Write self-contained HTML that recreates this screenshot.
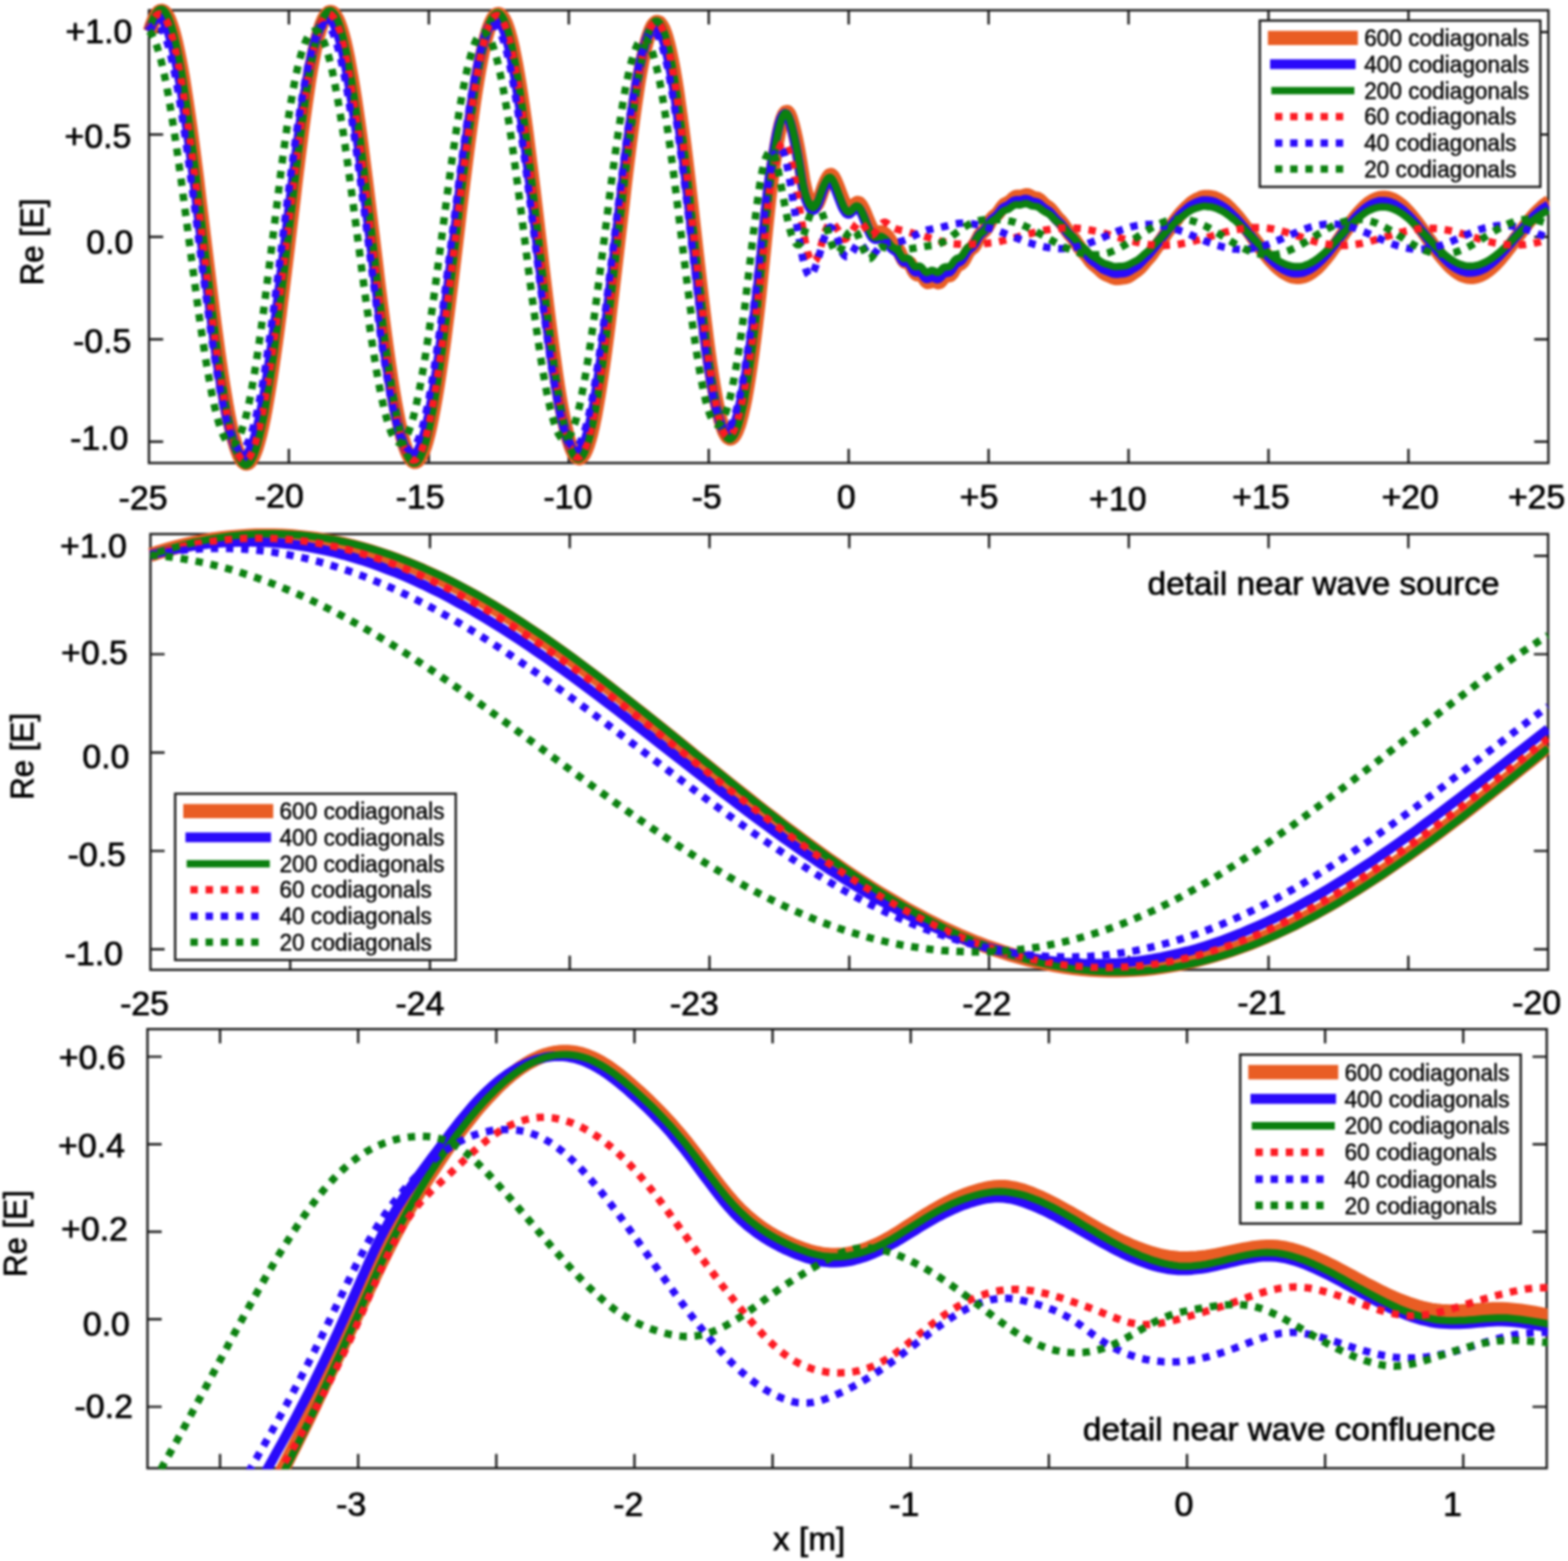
<!DOCTYPE html>
<html lang="en"><head><meta charset="utf-8"><title>Re [E] versus x [m] for different numbers of codiagonals</title>
<style>html,body{margin:0;padding:0;background:#fff}body{width:1600px;height:1593px;overflow:hidden}svg{display:block}text{font-family:"Liberation Sans",Arial,Helvetica,sans-serif;fill:#000;stroke:#000;stroke-width:0.7px;stroke-linejoin:round}.l{stroke-width:0.45px}.t{font-size:34.6px}.l{font-size:23.1px}.a{font-size:34px}.y{font-size:33px}.fr{fill:none;stroke:#1c1c1c;stroke-width:2.4}.cv{fill:none;stroke-linejoin:round;stroke-linecap:butt}</style></head><body>
<svg width="1600" height="1593" viewBox="0 0 1600 1593" role="img" aria-label="Three stacked line plots of Re [E] versus x [m] for 600, 400, 200, 60, 40 and 20 codiagonals">
<defs><filter id="soft" x="0" y="0" width="100%" height="100%" filterUnits="userSpaceOnUse" color-interpolation-filters="sRGB"><feGaussianBlur stdDeviation="0.85"/></filter></defs>
<rect width="1600" height="1593" fill="#fff"/>
<g filter="url(#soft)">
<rect width="1600" height="1593" fill="#fff"/>
<g id="panel1">
<path class="fr" d="M294.80,472.5v-14.5M294.80,10.5v14.5M437.60,472.5v-14.5M437.60,10.5v14.5M580.40,472.5v-14.5M580.40,10.5v14.5M723.20,472.5v-14.5M723.20,10.5v14.5M866.00,472.5v-14.5M866.00,10.5v14.5M1008.80,472.5v-14.5M1008.80,10.5v14.5M1151.60,472.5v-14.5M1151.60,10.5v14.5M1294.40,472.5v-14.5M1294.40,10.5v14.5M1437.20,472.5v-14.5M1437.20,10.5v14.5M152,450.75h14.5M1580,450.75h-14.5M152,346.25h14.5M1580,346.25h-14.5M152,241.75h14.5M1580,241.75h-14.5M152,137.25h14.5M1580,137.25h-14.5M152,32.75h14.5M1580,32.75h-14.5"/>
<rect class="fr" x="152" y="10.5" width="1428.00" height="462.00"/>
<clipPath id="cp1"><rect x="122" y="-19.5" width="1459.00" height="522.00"/></clipPath>
<g clip-path="url(#cp1)">
<path class="cv" d="M153.0,31.8 L154.8,26.0 L156.6,21.2 L158.4,17.3 L160.1,14.3 L161.9,12.3 L163.7,11.2 L165.5,11.1 L167.3,11.9 L169.1,13.7 L170.9,16.5 L172.7,20.2 L174.4,24.8 L176.2,30.3 L178.0,36.8 L179.8,44.1 L181.6,52.2 L183.4,61.1 L185.2,70.8 L187.0,81.2 L188.7,92.3 L190.5,104.0 L192.3,116.3 L194.1,129.1 L195.9,142.4 L197.7,156.2 L199.5,170.3 L201.3,184.7 L203.0,199.3 L204.8,214.1 L206.6,229.1 L208.4,244.0 L210.2,259.0 L212.0,273.9 L213.8,288.7 L215.6,303.3 L217.3,317.6 L219.1,331.6 L220.9,345.3 L222.7,358.5 L224.5,371.1 L226.3,383.3 L228.1,394.8 L229.9,405.7 L231.6,415.9 L233.4,425.4 L235.2,434.1 L237.0,442.0 L238.8,449.1 L240.6,455.3 L242.4,460.6 L244.1,465.0 L245.9,468.5 L247.7,471.0 L249.5,472.5 L251.3,473.1 L253.1,472.7 L254.9,471.3 L256.7,469.0 L258.4,465.7 L260.2,461.5 L262.0,456.3 L263.8,450.2 L265.6,443.3 L267.4,435.5 L269.2,426.9 L271.0,417.5 L272.7,407.5 L274.5,396.9 L276.3,385.6 L278.1,373.7 L279.9,361.3 L281.7,348.4 L283.5,335.0 L285.3,321.3 L287.0,307.2 L288.8,292.8 L290.6,278.2 L292.4,263.4 L294.2,248.5 L296.0,233.5 L297.8,218.5 L299.6,203.4 L301.3,188.5 L303.1,173.7 L304.9,159.2 L306.7,145.0 L308.5,131.1 L310.3,117.8 L312.1,105.0 L313.9,92.8 L315.6,81.3 L317.4,70.6 L319.2,60.7 L321.0,51.6 L322.8,43.5 L324.6,36.3 L326.4,30.1 L328.1,24.8 L329.9,20.4 L331.7,16.9 L333.5,14.4 L335.3,12.8 L337.1,12.3 L338.9,12.7 L340.7,14.0 L342.4,16.4 L344.2,19.7 L346.0,23.9 L347.8,29.1 L349.6,35.1 L351.4,42.0 L353.2,49.8 L355.0,58.4 L356.7,67.7 L358.5,77.8 L360.3,88.6 L362.1,100.0 L363.9,112.0 L365.7,124.5 L367.5,137.6 L369.3,151.1 L371.0,165.0 L372.8,179.2 L374.6,193.6 L376.4,208.3 L378.2,223.1 L380.0,238.0 L381.8,252.9 L383.6,267.8 L385.3,282.5 L387.1,297.1 L388.9,311.5 L390.7,325.5 L392.5,339.3 L394.3,352.6 L396.1,365.4 L397.9,377.7 L399.6,389.5 L401.4,400.6 L403.2,411.1 L405.0,420.8 L406.8,429.8 L408.6,438.0 L410.4,445.4 L412.1,451.9 L413.9,457.5 L415.7,462.2 L417.5,465.9 L419.3,468.7 L421.1,470.5 L422.9,471.4 L424.7,471.2 L426.4,470.1 L428.2,468.0 L430.0,464.9 L431.8,460.8 L433.6,455.8 L435.4,449.8 L437.2,443.0 L439.0,435.3 L440.7,426.8 L442.5,417.4 L444.3,407.3 L446.1,396.5 L447.9,385.1 L449.7,373.0 L451.5,360.3 L453.3,347.2 L455.0,333.5 L456.8,319.5 L458.6,305.2 L460.4,290.5 L462.2,275.7 L464.0,260.7 L465.8,245.6 L467.6,230.5 L469.3,215.5 L471.1,200.6 L472.9,185.9 L474.7,171.4 L476.5,157.2 L478.3,143.4 L480.1,130.0 L481.9,117.1 L483.6,104.7 L485.4,93.0 L487.2,81.8 L489.0,71.4 L490.8,61.8 L492.6,52.9 L494.4,44.9 L496.1,37.8 L497.9,31.5 L499.7,26.2 L501.5,21.8 L503.3,18.4 L505.1,16.0 L506.9,14.6 L508.7,14.3 L510.4,14.9 L512.2,16.6 L514.0,19.3 L515.8,22.9 L517.6,27.6 L519.4,33.3 L521.2,39.9 L523.0,47.4 L524.7,55.7 L526.5,65.0 L528.3,75.0 L530.1,85.8 L531.9,97.4 L533.7,109.6 L535.5,122.3 L537.3,135.7 L539.0,149.5 L540.8,163.8 L542.6,178.4 L544.4,193.4 L546.2,208.5 L548.0,223.9 L549.8,239.3 L551.6,254.7 L553.3,270.1 L555.1,285.3 L556.9,300.4 L558.7,315.2 L560.5,329.6 L562.3,343.6 L564.1,357.2 L565.9,370.3 L567.6,382.7 L569.4,394.5 L571.2,405.6 L573.0,415.9 L574.8,425.3 L576.6,434.0 L578.4,441.7 L580.1,448.4 L581.9,454.2 L583.7,459.0 L585.5,462.8 L587.3,465.5 L589.1,467.1 L590.9,467.7 L592.7,467.2 L594.4,465.6 L596.2,462.9 L598.0,459.1 L599.8,454.4 L601.6,448.6 L603.4,441.8 L605.2,434.1 L607.0,425.4 L608.7,415.9 L610.5,405.5 L612.3,394.3 L614.1,382.5 L615.9,369.9 L617.7,356.7 L619.5,343.0 L621.3,328.8 L623.0,314.2 L624.8,299.2 L626.6,284.0 L628.4,268.5 L630.2,253.0 L632.0,237.4 L633.8,221.8 L635.6,206.3 L637.3,191.0 L639.1,175.9 L640.9,161.2 L642.7,146.9 L644.5,133.0 L646.3,119.7 L648.1,107.0 L649.9,95.0 L651.6,83.7 L653.4,73.2 L655.2,63.6 L657.0,54.9 L658.8,47.1 L660.6,40.3 L662.4,34.6 L664.1,29.9 L665.9,26.3 L667.7,23.9 L669.5,22.5 L671.3,22.4 L673.1,23.3 L674.9,25.5 L676.7,28.7 L678.4,33.1 L680.2,38.6 L682.0,45.2 L683.8,52.9 L685.6,61.5 L687.4,71.1 L689.2,81.7 L691.0,93.1 L692.7,105.3 L694.5,118.2 L696.3,131.8 L698.1,146.0 L699.9,160.7 L701.7,175.9 L703.5,191.4 L705.3,207.2 L707.0,223.1 L708.8,239.1 L710.6,255.2 L712.4,271.1 L714.2,286.8 L716.0,302.3 L717.8,317.4 L719.6,332.1 L721.3,346.2 L723.1,359.6 L724.9,372.4 L726.7,384.3 L728.5,395.5 L730.3,405.7 L732.1,414.9 L733.9,423.1 L735.6,430.2 L737.4,436.1 L739.2,440.8 L741.0,444.2 L742.8,446.5 L744.6,447.5 L746.4,447.3 L748.1,446.0 L749.9,443.5 L751.7,439.9 L753.5,435.2 L755.3,429.5 L757.1,422.6 L758.9,414.7 L760.7,405.8 L762.4,395.9 L764.2,385.1 L766.0,373.2 L767.8,360.5 L769.6,346.8 L771.4,332.2 L773.2,316.7 L775.0,300.4 L776.7,283.4 L778.5,265.9 L780.3,248.1 L782.1,230.1 L783.9,212.7 L785.7,196.5 L787.5,182.0 L789.3,168.9 L791.0,156.9 L792.8,145.9 L794.6,136.2 L796.4,128.0 L798.2,121.4 L800.0,116.8 L801.8,114.4 L803.6,114.3 L805.3,116.6 L807.1,121.2 L808.9,127.4 L810.7,134.8 L812.5,142.9 L814.3,152.0 L816.1,162.2 L817.9,173.2 L819.6,183.7 L821.4,192.2 L823.2,198.7 L825.0,203.6 L826.8,207.4 L828.6,210.0 L830.4,211.1 L832.1,210.4 L833.9,208.1 L835.7,204.3 L837.5,199.4 L839.3,194.1 L841.1,189.0 L842.9,184.7 L844.7,181.4 L846.4,179.1 L848.2,178.6 L850.0,180.3 L851.8,183.5 L853.6,187.6 L855.4,192.2 L857.2,197.0 L859.0,201.6 L860.7,205.7 L862.5,209.0 L864.3,211.4 L866.1,212.6 L867.9,212.5 L869.7,211.5 L871.5,209.8 L873.3,208.1 L875.0,207.1 L876.8,207.6 L878.6,209.6 L880.4,212.9 L882.2,216.8 L884.0,221.2 L885.8,225.7 L887.6,229.8 L889.3,233.4 L891.1,236.2 L892.9,237.7 L894.7,238.1 L896.5,237.7 L898.3,237.1 L900.1,237.0 L901.9,238.0 L903.6,239.4 L905.4,241.3 L907.2,243.8 L909.0,246.8 L910.8,249.5 L912.6,251.5 L914.4,252.8 L916.1,254.4 L917.9,257.3 L919.7,261.2 L921.5,264.9 L923.3,267.1 L925.1,267.5 L926.9,267.6 L928.7,269.0 L930.4,272.3 L932.2,276.1 L934.0,278.9 L935.8,279.9 L937.6,279.6 L939.4,279.6 L941.2,281.0 L943.0,283.7 L944.7,286.4 L946.5,287.9 L948.3,287.6 L950.1,286.4 L951.9,285.6 L953.7,286.1 L955.5,287.4 L957.3,288.2 L959.0,287.6 L960.8,285.6 L962.6,283.2 L964.4,281.6 L966.2,281.1 L968.0,281.1 L969.8,280.5 L971.6,278.6 L973.3,275.6 L975.1,272.7 L976.9,270.7 L978.7,269.7 L980.5,268.8 L982.3,267.1 L984.1,264.3 L985.9,260.8 L987.6,257.6 L989.4,255.3 L991.2,253.8 L993.0,252.3 L994.8,249.9 L996.6,246.5 L998.4,242.9 L1000.1,239.8 L1001.9,237.7 L1003.7,236.1 L1005.5,234.3 L1007.3,231.6 L1009.1,228.4 L1010.9,225.1 L1012.7,222.6 L1014.4,220.9 L1016.2,219.6 L1018.0,217.9 L1019.8,215.6 L1021.6,212.9 L1023.4,210.5 L1025.2,208.8 L1027.0,207.9 L1028.7,207.1 L1030.5,206.0 L1032.3,204.4 L1034.1,202.6 L1035.9,201.3 L1037.7,200.8 L1039.5,200.8 L1041.3,200.9 L1043.0,200.6 L1044.8,199.9 L1046.6,199.3 L1048.4,199.2 L1050.2,199.8 L1052.0,200.8 L1053.8,201.8 L1055.6,202.3 L1057.3,202.6 L1059.1,203.1 L1060.9,204.2 L1062.7,205.8 L1064.5,207.7 L1066.3,209.4 L1068.1,210.7 L1069.9,211.9 L1071.6,213.3 L1073.4,215.3 L1075.2,217.7 L1077.0,220.1 L1078.8,222.3 L1080.6,224.2 L1082.4,226.0 L1084.1,228.1 L1085.9,230.7 L1087.7,233.5 L1089.5,236.2 L1091.3,238.6 L1093.1,240.6 L1094.9,242.7 L1096.7,245.1 L1098.4,247.8 L1100.2,250.6 L1102.0,253.1 L1103.8,255.4 L1105.6,257.3 L1107.4,259.3 L1109.2,261.5 L1111.0,263.9 L1112.7,266.2 L1114.5,268.3 L1116.3,270.0 L1118.1,271.4 L1119.9,272.9 L1121.7,274.6 L1123.5,276.3 L1125.3,277.9 L1127.0,279.1 L1128.8,280.0 L1130.6,280.7 L1132.4,281.4 L1134.2,282.3 L1136.0,283.1 L1137.8,283.7 L1139.6,283.9 L1141.3,283.7 L1143.1,283.5 L1144.9,283.3 L1146.7,283.1 L1148.5,282.8 L1150.3,282.3 L1152.1,281.3 L1153.9,280.2 L1155.6,278.9 L1157.4,277.7 L1159.2,276.5 L1161.0,275.2 L1162.8,273.6 L1164.6,271.6 L1166.4,269.6 L1168.1,267.5 L1169.9,265.5 L1171.7,263.5 L1173.5,261.3 L1175.3,259.0 L1177.1,256.4 L1178.9,253.8 L1180.7,251.3 L1182.4,248.8 L1184.2,246.4 L1186.0,243.9 L1187.8,241.3 L1189.6,238.6 L1191.4,235.9 L1193.2,233.4 L1195.0,231.0 L1196.7,228.6 L1198.5,226.3 L1200.3,223.8 L1202.1,221.4 L1203.9,219.1 L1205.7,217.1 L1207.5,215.2 L1209.3,213.4 L1211.0,211.6 L1212.8,209.9 L1214.6,208.2 L1216.4,206.8 L1218.2,205.6 L1220.0,204.5 L1221.8,203.6 L1223.6,202.8 L1225.3,202.0 L1227.1,201.4 L1228.9,201.0 L1230.7,200.9 L1232.5,201.0 L1234.3,201.1 L1236.1,201.3 L1237.9,201.6 L1239.6,202.2 L1241.4,202.9 L1243.2,203.8 L1245.0,204.9 L1246.8,206.0 L1248.6,207.2 L1250.4,208.5 L1252.1,210.0 L1253.9,211.7 L1255.7,213.5 L1257.5,215.4 L1259.3,217.3 L1261.1,219.3 L1262.9,221.3 L1264.7,223.5 L1266.4,225.8 L1268.2,228.2 L1270.0,230.6 L1271.8,233.0 L1273.6,235.3 L1275.4,237.7 L1277.2,240.2 L1279.0,242.8 L1280.7,245.3 L1282.5,247.8 L1284.3,250.2 L1286.1,252.5 L1287.9,254.9 L1289.7,257.2 L1291.5,259.5 L1293.3,261.8 L1295.0,263.9 L1296.8,265.9 L1298.6,267.8 L1300.4,269.7 L1302.2,271.5 L1304.0,273.2 L1305.8,274.7 L1307.6,276.1 L1309.3,277.4 L1311.1,278.5 L1312.9,279.5 L1314.7,280.5 L1316.5,281.2 L1318.3,281.9 L1320.1,282.3 L1321.9,282.5 L1323.6,282.7 L1325.4,282.7 L1327.2,282.5 L1329.0,282.2 L1330.8,281.7 L1332.6,281.0 L1334.4,280.2 L1336.1,279.2 L1337.9,278.1 L1339.7,276.8 L1341.5,275.4 L1343.3,273.9 L1345.1,272.2 L1346.9,270.3 L1348.7,268.4 L1350.4,266.4 L1352.2,264.3 L1354.0,262.0 L1355.8,259.7 L1357.6,257.3 L1359.4,254.8 L1361.2,252.3 L1363.0,249.8 L1364.7,247.3 L1366.5,244.7 L1368.3,242.1 L1370.1,239.5 L1371.9,236.9 L1373.7,234.3 L1375.5,231.8 L1377.3,229.3 L1379.0,226.9 L1380.8,224.5 L1382.6,222.2 L1384.4,219.9 L1386.2,217.8 L1388.0,215.8 L1389.8,213.9 L1391.6,212.1 L1393.3,210.4 L1395.1,208.8 L1396.9,207.4 L1398.7,206.2 L1400.5,205.1 L1402.3,204.2 L1404.1,203.3 L1405.9,202.7 L1407.6,202.2 L1409.4,201.9 L1411.2,201.7 L1413.0,201.7 L1414.8,201.9 L1416.6,202.2 L1418.4,202.7 L1420.1,203.4 L1421.9,204.2 L1423.7,205.2 L1425.5,206.3 L1427.3,207.5 L1429.1,208.9 L1430.9,210.4 L1432.7,212.0 L1434.4,213.8 L1436.2,215.7 L1438.0,217.7 L1439.8,219.8 L1441.6,221.9 L1443.4,224.2 L1445.2,226.5 L1447.0,228.9 L1448.7,231.3 L1450.5,233.8 L1452.3,236.3 L1454.1,238.8 L1455.9,241.4 L1457.7,243.9 L1459.5,246.5 L1461.3,249.0 L1463.0,251.5 L1464.8,254.0 L1466.6,256.4 L1468.4,258.7 L1470.2,261.0 L1472.0,263.3 L1473.8,265.4 L1475.6,267.4 L1477.3,269.4 L1479.1,271.2 L1480.9,272.9 L1482.7,274.5 L1484.5,276.0 L1486.3,277.4 L1488.1,278.5 L1489.9,279.6 L1491.6,280.5 L1493.4,281.2 L1495.2,281.8 L1497.0,282.3 L1498.8,282.6 L1500.6,282.7 L1502.4,282.7 L1504.1,282.5 L1505.9,282.2 L1507.7,281.7 L1509.5,281.1 L1511.3,280.3 L1513.1,279.4 L1514.9,278.4 L1516.7,277.2 L1518.4,276.0 L1520.2,274.6 L1522.0,273.0 L1523.8,271.4 L1525.6,269.7 L1527.4,267.8 L1529.2,265.9 L1531.0,263.9 L1532.7,261.8 L1534.5,259.6 L1536.3,257.4 L1538.1,255.1 L1539.9,252.8 L1541.7,250.4 L1543.5,248.1 L1545.3,245.6 L1547.0,243.2 L1548.8,240.8 L1550.6,238.4 L1552.4,235.9 L1554.2,233.6 L1556.0,231.2 L1557.8,228.9 L1559.6,226.6 L1561.3,224.4 L1563.1,222.3 L1564.9,220.2 L1566.7,218.2 L1568.5,216.4 L1570.3,214.6 L1572.1,212.9 L1573.9,211.2 L1575.6,209.8 L1577.4,208.4 L1579.2,207.1 L1581.0,206.0" stroke="#e95d24" stroke-width="14.5"/>
<path class="cv" d="M152.0,31.8 L153.8,27.2 L155.6,23.5 L157.4,20.7 L159.1,18.8 L160.9,17.8 L162.7,17.8 L164.5,18.7 L166.3,20.5 L168.1,23.3 L169.9,26.9 L171.7,31.5 L173.4,37.0 L175.2,43.3 L177.0,50.4 L178.8,58.4 L180.6,67.1 L182.4,76.5 L184.2,86.7 L186.0,97.5 L187.7,108.9 L189.5,120.9 L191.3,133.4 L193.1,146.3 L194.9,159.7 L196.7,173.4 L198.5,187.4 L200.3,201.6 L202.0,216.0 L203.8,230.5 L205.6,245.0 L207.4,259.6 L209.2,274.1 L211.0,288.4 L212.8,302.5 L214.6,316.4 L216.3,330.0 L218.1,343.2 L219.9,356.0 L221.7,368.3 L223.5,380.0 L225.3,391.2 L227.1,401.7 L228.9,411.6 L230.6,420.7 L232.4,429.1 L234.2,436.7 L236.0,443.5 L237.8,449.5 L239.6,454.5 L241.4,458.7 L243.1,461.9 L244.9,464.3 L246.7,465.7 L248.5,466.1 L250.3,465.6 L252.1,464.1 L253.9,461.7 L255.7,458.4 L257.4,454.2 L259.2,449.0 L261.0,443.0 L262.8,436.1 L264.6,428.4 L266.4,420.0 L268.2,410.7 L270.0,400.8 L271.7,390.2 L273.5,379.0 L275.3,367.3 L277.1,355.0 L278.9,342.2 L280.7,329.0 L282.5,315.5 L284.3,301.6 L286.0,287.5 L287.8,273.2 L289.6,258.8 L291.4,244.2 L293.2,229.7 L295.0,215.2 L296.8,200.7 L298.6,186.4 L300.3,172.4 L302.1,158.5 L303.9,145.1 L305.7,132.0 L307.5,119.4 L309.3,107.3 L311.1,95.8 L312.9,84.9 L314.6,74.7 L316.4,65.3 L318.2,56.6 L320.0,48.8 L321.8,41.8 L323.6,35.7 L325.4,30.6 L327.1,26.3 L328.9,23.0 L330.7,20.5 L332.5,19.1 L334.3,18.5 L336.1,18.9 L337.9,20.3 L339.7,22.5 L341.4,25.8 L343.2,29.9 L345.0,34.9 L346.8,40.8 L348.6,47.5 L350.4,55.1 L352.2,63.4 L354.0,72.5 L355.7,82.3 L357.5,92.8 L359.3,103.9 L361.1,115.6 L362.9,127.8 L364.7,140.5 L366.5,153.6 L368.3,167.1 L370.0,180.9 L371.8,195.0 L373.6,209.2 L375.4,223.6 L377.2,238.1 L379.0,252.6 L380.8,267.1 L382.6,281.4 L384.3,295.6 L386.1,309.6 L387.9,323.3 L389.7,336.6 L391.5,349.5 L393.3,362.0 L395.1,374.0 L396.9,385.5 L398.6,396.3 L400.4,406.5 L402.2,416.0 L404.0,424.7 L405.8,432.7 L407.6,439.9 L409.4,446.2 L411.1,451.7 L412.9,456.3 L414.7,460.0 L416.5,462.7 L418.3,464.5 L420.1,465.3 L421.9,465.2 L423.7,464.1 L425.4,462.1 L427.2,459.1 L429.0,455.2 L430.8,450.3 L432.6,444.6 L434.4,438.0 L436.2,430.5 L438.0,422.3 L439.7,413.2 L441.5,403.4 L443.3,392.9 L445.1,381.8 L446.9,370.1 L448.7,357.8 L450.5,345.0 L452.3,331.7 L454.0,318.1 L455.8,304.1 L457.6,289.9 L459.4,275.5 L461.2,260.9 L463.0,246.2 L464.8,231.6 L466.6,216.9 L468.3,202.4 L470.1,188.0 L471.9,173.9 L473.7,160.1 L475.5,146.6 L477.3,133.6 L479.1,121.0 L480.9,108.9 L482.6,97.4 L484.4,86.6 L486.2,76.4 L488.0,67.0 L489.8,58.3 L491.6,50.4 L493.4,43.4 L495.1,37.2 L496.9,32.0 L498.7,27.7 L500.5,24.3 L502.3,21.9 L504.1,20.5 L505.9,20.0 L507.7,20.6 L509.4,22.1 L511.2,24.6 L513.0,28.1 L514.8,32.6 L516.6,38.0 L518.4,44.3 L520.2,51.5 L522.0,59.6 L523.7,68.5 L525.5,78.2 L527.3,88.7 L529.1,99.8 L530.9,111.6 L532.7,124.0 L534.5,137.0 L536.3,150.4 L538.0,164.3 L539.8,178.5 L541.6,193.0 L543.4,207.7 L545.2,222.6 L547.0,237.6 L548.8,252.7 L550.6,267.6 L552.3,282.5 L554.1,297.2 L555.9,311.6 L557.7,325.8 L559.5,339.5 L561.3,352.8 L563.1,365.5 L564.9,377.7 L566.6,389.3 L568.4,400.2 L570.2,410.3 L572.0,419.7 L573.8,428.2 L575.6,435.8 L577.4,442.5 L579.1,448.3 L580.9,453.1 L582.7,456.9 L584.5,459.7 L586.3,461.5 L588.1,462.2 L589.9,461.8 L591.7,460.4 L593.4,457.9 L595.2,454.5 L597.0,450.0 L598.8,444.5 L600.6,438.0 L602.4,430.6 L604.2,422.3 L606.0,413.1 L607.7,403.2 L609.5,392.4 L611.3,380.9 L613.1,368.8 L614.9,356.0 L616.7,342.7 L618.5,329.0 L620.3,314.8 L622.0,300.2 L623.8,285.4 L625.6,270.4 L627.4,255.2 L629.2,240.0 L631.0,224.8 L632.8,209.7 L634.6,194.7 L636.3,180.0 L638.1,165.6 L639.9,151.5 L641.7,138.0 L643.5,124.9 L645.3,112.4 L647.1,100.5 L648.9,89.4 L650.6,79.0 L652.4,69.5 L654.2,60.8 L656.0,53.0 L657.8,46.2 L659.6,40.4 L661.4,35.6 L663.1,31.9 L664.9,29.3 L666.7,27.8 L668.5,27.4 L670.3,28.1 L672.1,29.9 L673.9,32.8 L675.7,36.9 L677.4,42.0 L679.2,48.2 L681.0,55.4 L682.8,63.6 L684.6,72.8 L686.4,82.9 L688.2,93.8 L690.0,105.5 L691.7,118.0 L693.5,131.1 L695.3,144.8 L697.1,159.0 L698.9,173.7 L700.7,188.8 L702.5,204.1 L704.3,219.6 L706.0,235.3 L707.8,250.9 L709.6,266.5 L711.4,281.9 L713.2,297.1 L715.0,311.9 L716.8,326.4 L718.6,340.3 L720.3,353.6 L722.1,366.3 L723.9,378.2 L725.7,389.2 L727.5,399.4 L729.3,408.7 L731.1,417.0 L732.9,424.3 L734.6,430.5 L736.4,435.4 L738.2,439.1 L740.0,441.4 L741.8,442.4 L743.6,442.3 L745.4,440.9 L747.1,438.3 L748.9,434.6 L750.7,429.9 L752.5,424.0 L754.3,417.2 L756.1,409.5 L757.9,400.8 L759.7,391.2 L761.4,380.8 L763.2,369.6 L765.0,357.7 L766.8,345.0 L768.6,331.6 L770.4,317.6 L772.2,303.0 L774.0,287.8 L775.7,271.7 L777.5,254.6 L779.3,236.4 L781.1,217.7 L782.9,200.4 L784.7,186.0 L786.5,173.8 L788.3,162.6 L790.0,151.7 L791.8,141.5 L793.6,132.7 L795.4,125.8 L797.2,120.7 L799.0,117.5 L800.8,116.1 L802.6,116.9 L804.3,119.9 L806.1,124.9 L807.9,131.4 L809.7,138.9 L811.5,147.1 L813.3,156.4 L815.1,167.0 L816.9,178.2 L818.6,188.5 L820.4,196.6 L822.2,202.8 L824.0,207.4 L825.8,211.1 L827.6,213.7 L829.4,214.7 L831.1,214.0 L832.9,211.6 L834.7,207.9 L836.5,203.3 L838.3,198.2 L840.1,193.3 L841.9,189.2 L843.7,186.0 L845.4,184.0 L847.2,183.9 L849.0,185.9 L850.8,189.2 L852.6,193.2 L854.4,197.8 L856.2,202.5 L858.0,207.1 L859.7,211.3 L861.5,214.7 L863.3,217.2 L865.1,218.3 L866.9,218.0 L868.7,216.6 L870.5,214.8 L872.3,212.9 L874.0,211.9 L875.8,212.4 L877.6,214.6 L879.4,218.0 L881.2,222.1 L883.0,226.6 L884.8,231.2 L886.6,235.5 L888.3,239.2 L890.1,242.0 L891.9,243.7 L893.7,244.1 L895.5,243.7 L897.3,243.0 L899.1,242.9 L900.9,243.7 L902.6,245.0 L904.4,246.7 L906.2,248.8 L908.0,251.3 L909.8,253.5 L911.6,255.0 L913.4,255.9 L915.1,257.1 L916.9,259.3 L918.7,262.5 L920.5,265.5 L922.3,267.2 L924.1,267.4 L925.9,267.2 L927.7,268.4 L929.4,271.0 L931.2,274.3 L933.0,276.6 L934.8,277.4 L936.6,277.1 L938.4,277.0 L940.2,278.2 L942.0,280.5 L943.7,282.9 L945.5,284.1 L947.3,283.8 L949.1,282.7 L950.9,282.1 L952.7,282.5 L954.5,283.6 L956.3,284.3 L958.0,283.7 L959.8,282.0 L961.6,279.8 L963.4,278.3 L965.2,277.9 L967.0,277.8 L968.8,277.3 L970.6,275.5 L972.3,272.9 L974.1,270.3 L975.9,268.5 L977.7,267.5 L979.5,266.6 L981.3,265.1 L983.1,262.5 L984.9,259.4 L986.6,256.5 L988.4,254.4 L990.2,253.0 L992.0,251.6 L993.8,249.4 L995.6,246.4 L997.4,243.1 L999.1,240.3 L1000.9,238.4 L1002.7,236.9 L1004.5,235.2 L1006.3,232.8 L1008.1,229.9 L1009.9,227.0 L1011.7,224.7 L1013.4,223.1 L1015.2,221.9 L1017.0,220.4 L1018.8,218.3 L1020.6,215.9 L1022.4,213.7 L1024.2,212.2 L1026.0,211.3 L1027.7,210.7 L1029.5,209.7 L1031.3,208.2 L1033.1,206.7 L1034.9,205.5 L1036.7,205.0 L1038.5,205.0 L1040.3,205.1 L1042.0,204.9 L1043.8,204.3 L1045.6,203.7 L1047.4,203.7 L1049.2,204.2 L1051.0,205.2 L1052.8,206.0 L1054.6,206.5 L1056.3,206.8 L1058.1,207.3 L1059.9,208.2 L1061.7,209.7 L1063.5,211.3 L1065.3,212.8 L1067.1,214.0 L1068.9,215.0 L1070.6,216.3 L1072.4,218.1 L1074.2,220.2 L1076.0,222.3 L1077.8,224.3 L1079.6,225.9 L1081.4,227.5 L1083.1,229.4 L1084.9,231.6 L1086.7,234.1 L1088.5,236.5 L1090.3,238.6 L1092.1,240.5 L1093.9,242.3 L1095.7,244.4 L1097.4,246.8 L1099.2,249.2 L1101.0,251.5 L1102.8,253.4 L1104.6,255.2 L1106.4,256.9 L1108.2,258.9 L1110.0,261.0 L1111.7,263.1 L1113.5,264.9 L1115.3,266.4 L1117.1,267.7 L1118.9,269.0 L1120.7,270.5 L1122.5,272.0 L1124.3,273.4 L1126.0,274.5 L1127.8,275.3 L1129.6,275.9 L1131.4,276.6 L1133.2,277.4 L1135.0,278.1 L1136.8,278.6 L1138.6,278.8 L1140.3,278.7 L1142.1,278.5 L1143.9,278.3 L1145.7,278.2 L1147.5,278.0 L1149.3,277.5 L1151.1,276.7 L1152.9,275.7 L1154.6,274.6 L1156.4,273.5 L1158.2,272.4 L1160.0,271.2 L1161.8,269.8 L1163.6,268.0 L1165.4,266.2 L1167.1,264.3 L1168.9,262.5 L1170.7,260.7 L1172.5,258.8 L1174.3,256.7 L1176.1,254.4 L1177.9,252.1 L1179.7,249.8 L1181.4,247.6 L1183.2,245.5 L1185.0,243.2 L1186.8,240.8 L1188.6,238.4 L1190.4,236.0 L1192.2,233.7 L1194.0,231.6 L1195.7,229.5 L1197.5,227.4 L1199.3,225.2 L1201.1,223.1 L1202.9,221.1 L1204.7,219.2 L1206.5,217.6 L1208.3,216.0 L1210.0,214.4 L1211.8,212.8 L1213.6,211.4 L1215.4,210.1 L1217.2,209.1 L1219.0,208.2 L1220.8,207.4 L1222.6,206.7 L1224.3,206.0 L1226.1,205.5 L1227.9,205.2 L1229.7,205.2 L1231.5,205.3 L1233.3,205.4 L1235.1,205.7 L1236.9,206.0 L1238.6,206.5 L1240.4,207.2 L1242.2,208.0 L1244.0,209.0 L1245.8,210.1 L1247.6,211.2 L1249.4,212.4 L1251.1,213.7 L1252.9,215.2 L1254.7,216.8 L1256.5,218.5 L1258.3,220.3 L1260.1,222.0 L1261.9,223.8 L1263.7,225.8 L1265.4,227.8 L1267.2,230.0 L1269.0,232.1 L1270.8,234.2 L1272.6,236.3 L1274.4,238.5 L1276.2,240.7 L1278.0,243.0 L1279.7,245.2 L1281.5,247.4 L1283.3,249.5 L1285.1,251.6 L1286.9,253.7 L1288.7,255.8 L1290.5,257.8 L1292.3,259.8 L1294.0,261.7 L1295.8,263.5 L1297.6,265.2 L1299.4,266.8 L1301.2,268.4 L1303.0,269.9 L1304.8,271.3 L1306.6,272.5 L1308.3,273.6 L1310.1,274.6 L1311.9,275.5 L1313.7,276.3 L1315.5,277.0 L1317.3,277.6 L1319.1,278.0 L1320.9,278.2 L1322.6,278.3 L1324.4,278.3 L1326.2,278.1 L1328.0,277.9 L1329.8,277.4 L1331.6,276.8 L1333.4,276.0 L1335.1,275.2 L1336.9,274.2 L1338.7,273.1 L1340.5,271.8 L1342.3,270.4 L1344.1,268.9 L1345.9,267.2 L1347.7,265.5 L1349.4,263.7 L1351.2,261.8 L1353.0,259.8 L1354.8,257.8 L1356.6,255.6 L1358.4,253.4 L1360.2,251.2 L1362.0,248.9 L1363.7,246.6 L1365.5,244.3 L1367.3,242.0 L1369.1,239.7 L1370.9,237.3 L1372.7,235.0 L1374.5,232.8 L1376.3,230.6 L1378.0,228.4 L1379.8,226.3 L1381.6,224.2 L1383.4,222.2 L1385.2,220.3 L1387.0,218.5 L1388.8,216.8 L1390.6,215.2 L1392.3,213.7 L1394.1,212.3 L1395.9,211.0 L1397.7,209.9 L1399.5,208.9 L1401.3,208.1 L1403.1,207.3 L1404.9,206.8 L1406.6,206.3 L1408.4,206.0 L1410.2,205.9 L1412.0,205.9 L1413.8,206.1 L1415.6,206.4 L1417.4,206.8 L1419.1,207.4 L1420.9,208.1 L1422.7,208.9 L1424.5,209.9 L1426.3,211.0 L1428.1,212.3 L1429.9,213.6 L1431.7,215.0 L1433.4,216.6 L1435.2,218.3 L1437.0,220.0 L1438.8,221.9 L1440.6,223.8 L1442.4,225.8 L1444.2,227.8 L1446.0,229.9 L1447.7,232.1 L1449.5,234.3 L1451.3,236.5 L1453.1,238.7 L1454.9,241.0 L1456.7,243.3 L1458.5,245.5 L1460.3,247.8 L1462.0,250.0 L1463.8,252.2 L1465.6,254.3 L1467.4,256.4 L1469.2,258.4 L1471.0,260.4 L1472.8,262.3 L1474.6,264.1 L1476.3,265.8 L1478.1,267.4 L1479.9,269.0 L1481.7,270.4 L1483.5,271.7 L1485.3,272.9 L1487.1,273.9 L1488.9,274.8 L1490.6,275.6 L1492.4,276.3 L1494.2,276.8 L1496.0,277.2 L1497.8,277.5 L1499.6,277.6 L1501.4,277.6 L1503.1,277.4 L1504.9,277.1 L1506.7,276.7 L1508.5,276.2 L1510.3,275.5 L1512.1,274.7 L1513.9,273.8 L1515.7,272.8 L1517.4,271.6 L1519.2,270.4 L1521.0,269.0 L1522.8,267.6 L1524.6,266.0 L1526.4,264.4 L1528.2,262.7 L1530.0,260.9 L1531.7,259.1 L1533.5,257.1 L1535.3,255.2 L1537.1,253.1 L1538.9,251.1 L1540.7,249.0 L1542.5,246.9 L1544.3,244.7 L1546.0,242.6 L1547.8,240.4 L1549.6,238.3 L1551.4,236.1 L1553.2,234.0 L1555.0,231.9 L1556.8,229.9 L1558.6,227.9 L1560.3,225.9 L1562.1,224.0 L1563.9,222.2 L1565.7,220.5 L1567.5,218.8 L1569.3,217.2 L1571.1,215.7 L1572.9,214.3 L1574.6,213.0 L1576.4,211.8 L1578.2,210.6 L1580.0,209.7" stroke="#2a0afa" stroke-width="10"/>
<path class="cv" d="M152.0,31.8 L153.8,25.8 L155.6,20.7 L157.4,16.5 L159.1,13.3 L160.9,11.0 L162.7,9.7 L164.5,9.3 L166.3,9.9 L168.1,11.5 L169.9,14.0 L171.7,17.5 L173.4,22.0 L175.2,27.4 L177.0,33.6 L178.8,40.8 L180.6,48.8 L182.4,57.6 L184.2,67.1 L186.0,77.5 L187.7,88.5 L189.5,100.1 L191.3,112.4 L193.1,125.2 L194.9,138.5 L196.7,152.2 L198.5,166.4 L200.3,180.8 L202.0,195.5 L203.8,210.4 L205.6,225.4 L207.4,240.5 L209.2,255.6 L211.0,270.7 L212.8,285.6 L214.6,300.4 L216.3,314.8 L218.1,329.0 L219.9,342.9 L221.7,356.2 L223.5,369.1 L225.3,381.5 L227.1,393.3 L228.9,404.4 L230.6,414.9 L232.4,424.6 L234.2,433.5 L236.0,441.7 L237.8,449.0 L239.6,455.5 L241.4,461.0 L243.1,465.7 L244.9,469.4 L246.7,472.1 L248.5,473.9 L250.3,474.7 L252.1,474.5 L253.9,473.3 L255.7,471.2 L257.4,468.1 L259.2,464.0 L261.0,459.0 L262.8,453.1 L264.6,446.3 L266.4,438.6 L268.2,430.1 L270.0,420.8 L271.7,410.8 L273.5,400.2 L275.3,388.9 L277.1,377.0 L278.9,364.5 L280.7,351.5 L282.5,338.1 L284.3,324.3 L286.0,310.1 L287.8,295.6 L289.6,280.9 L291.4,266.0 L293.2,250.9 L295.0,235.8 L296.8,220.7 L298.6,205.5 L300.3,190.5 L302.1,175.6 L303.9,160.9 L305.7,146.6 L307.5,132.7 L309.3,119.2 L311.1,106.3 L312.9,94.0 L314.6,82.4 L316.4,71.5 L318.2,61.4 L320.0,52.1 L321.8,43.8 L323.6,36.4 L325.4,30.0 L327.1,24.4 L328.9,19.8 L330.7,16.1 L332.5,13.4 L334.3,11.7 L336.1,10.9 L337.9,11.1 L339.7,12.3 L341.4,14.4 L343.2,17.6 L345.0,21.6 L346.8,26.6 L348.6,32.5 L350.4,39.3 L352.2,47.0 L354.0,55.4 L355.7,64.7 L357.5,74.7 L359.3,85.4 L361.1,96.8 L362.9,108.7 L364.7,121.3 L366.5,134.3 L368.3,147.8 L370.0,161.7 L371.8,175.9 L373.6,190.4 L375.4,205.2 L377.2,220.0 L379.0,235.0 L380.8,250.0 L382.6,265.0 L384.3,279.9 L386.1,294.6 L387.9,309.1 L389.7,323.3 L391.5,337.2 L393.3,350.7 L395.1,363.7 L396.9,376.2 L398.6,388.1 L400.4,399.5 L402.2,410.1 L404.0,420.1 L405.8,429.3 L407.6,437.7 L409.4,445.2 L411.1,451.9 L412.9,457.7 L414.7,462.6 L416.5,466.6 L418.3,469.6 L420.1,471.6 L421.9,472.6 L423.7,472.6 L425.4,471.7 L427.2,469.7 L429.0,466.7 L430.8,462.8 L432.6,458.0 L434.4,452.2 L436.2,445.4 L438.0,437.8 L439.7,429.4 L441.5,420.2 L443.3,410.1 L445.1,399.4 L446.9,388.0 L448.7,375.9 L450.5,363.3 L452.3,350.1 L454.0,336.5 L455.8,322.5 L457.6,308.1 L459.4,293.4 L461.2,278.5 L463.0,263.5 L464.8,248.3 L466.6,233.1 L468.3,218.0 L470.1,203.0 L471.9,188.1 L473.7,173.5 L475.5,159.2 L477.3,145.2 L479.1,131.7 L480.9,118.6 L482.6,106.1 L484.4,94.1 L486.2,82.9 L488.0,72.3 L489.8,62.5 L491.6,53.4 L493.4,45.2 L495.1,37.8 L496.9,31.4 L498.7,25.9 L500.5,21.3 L502.3,17.8 L504.1,15.2 L505.9,13.6 L507.7,13.1 L509.4,13.6 L511.2,15.1 L513.0,17.6 L514.8,21.2 L516.6,25.7 L518.4,31.3 L520.2,37.7 L522.0,45.1 L523.7,53.4 L525.5,62.6 L527.3,72.6 L529.1,83.3 L530.9,94.8 L532.7,106.9 L534.5,119.7 L536.3,133.1 L538.0,146.9 L539.8,161.2 L541.6,175.9 L543.4,190.8 L545.2,206.0 L547.0,221.4 L548.8,236.9 L550.6,252.4 L552.3,267.9 L554.1,283.2 L555.9,298.4 L557.7,313.3 L559.5,327.9 L561.3,342.1 L563.1,355.8 L564.9,369.0 L566.6,381.6 L568.4,393.5 L570.2,404.7 L572.0,415.2 L573.8,424.9 L575.6,433.6 L577.4,441.5 L579.1,448.5 L580.9,454.4 L582.7,459.4 L584.5,463.3 L586.3,466.2 L588.1,468.0 L589.9,468.7 L591.7,468.3 L593.4,466.8 L595.2,464.3 L597.0,460.7 L598.8,456.0 L600.6,450.4 L602.4,443.7 L604.2,436.0 L606.0,427.4 L607.7,418.0 L609.5,407.7 L611.3,396.6 L613.1,384.7 L614.9,372.2 L616.7,359.0 L618.5,345.3 L620.3,331.1 L622.0,316.5 L623.8,301.5 L625.6,286.2 L627.4,270.7 L629.2,255.1 L631.0,239.4 L632.8,223.7 L634.6,208.1 L636.3,192.7 L638.1,177.6 L639.9,162.7 L641.7,148.3 L643.5,134.3 L645.3,120.9 L647.1,108.0 L648.9,95.9 L650.6,84.4 L652.4,73.8 L654.2,64.0 L656.0,55.2 L657.8,47.2 L659.6,40.3 L661.4,34.4 L663.1,29.6 L664.9,25.9 L666.7,23.2 L668.5,21.8 L670.3,21.5 L672.1,22.3 L673.9,24.3 L675.7,27.5 L677.4,31.8 L679.2,37.2 L681.0,43.7 L682.8,51.2 L684.6,59.8 L686.4,69.3 L688.2,79.8 L690.0,91.2 L691.7,103.3 L693.5,116.3 L695.3,129.9 L697.1,144.1 L698.9,158.8 L700.7,174.0 L702.5,189.5 L704.3,205.3 L706.0,221.3 L707.8,237.4 L709.6,253.5 L711.4,269.5 L713.2,285.3 L715.0,300.9 L716.8,316.1 L718.6,330.9 L720.3,345.1 L722.1,358.7 L723.9,371.5 L725.7,383.6 L727.5,394.9 L729.3,405.2 L731.1,414.6 L732.9,422.9 L734.6,430.1 L736.4,436.2 L738.2,441.0 L740.0,444.6 L741.8,447.0 L743.6,448.2 L745.4,448.2 L747.1,447.0 L748.9,444.7 L750.7,441.2 L752.5,436.7 L754.3,431.0 L756.1,424.3 L757.9,416.5 L759.7,407.7 L761.4,397.9 L763.2,387.1 L765.0,375.3 L766.8,362.6 L768.6,348.9 L770.4,334.3 L772.2,318.8 L774.0,302.5 L775.7,285.3 L777.5,267.6 L779.3,249.4 L781.1,231.0 L782.9,212.9 L784.7,196.4 L786.5,181.7 L788.3,168.5 L790.0,156.6 L791.8,145.9 L793.6,136.4 L795.4,128.5 L797.2,122.2 L799.0,117.8 L800.8,115.6 L802.6,115.6 L804.3,117.9 L806.1,122.4 L807.9,128.6 L809.7,135.9 L811.5,143.9 L813.3,153.0 L815.1,163.3 L816.9,174.3 L818.6,184.7 L820.4,193.1 L822.2,199.4 L824.0,204.3 L825.8,208.1 L827.6,210.8 L829.4,211.9 L831.1,211.3 L832.9,209.0 L834.7,205.3 L836.5,200.5 L838.3,195.3 L840.1,190.4 L841.9,186.3 L843.7,183.2 L845.4,181.3 L847.2,180.9 L849.0,182.4 L850.8,185.4 L852.6,189.5 L854.4,194.2 L856.2,199.2 L858.0,204.0 L859.7,208.3 L861.5,212.0 L863.3,214.7 L865.1,216.3 L866.9,216.2 L868.7,214.9 L870.5,212.9 L872.3,211.0 L874.0,210.0 L875.8,210.5 L877.6,212.7 L879.4,216.1 L881.2,220.2 L883.0,224.7 L884.8,229.3 L886.6,233.6 L888.3,237.4 L890.1,240.3 L891.9,242.0 L893.7,242.4 L895.5,242.0 L897.3,241.3 L899.1,241.2 L900.9,242.1 L902.6,243.4 L904.4,245.0 L906.2,247.0 L908.0,249.4 L909.8,251.5 L911.6,252.8 L913.4,253.5 L915.1,254.5 L916.9,256.5 L918.7,259.5 L920.5,262.3 L922.3,263.8 L924.1,263.6 L925.9,263.3 L927.7,264.2 L929.4,266.6 L931.2,269.6 L933.0,271.8 L934.8,272.3 L936.6,271.8 L938.4,271.5 L940.2,272.5 L942.0,274.7 L943.7,276.9 L945.5,278.0 L947.3,277.6 L949.1,276.5 L950.9,275.8 L952.7,276.2 L954.5,277.3 L956.3,278.1 L958.0,277.6 L959.8,275.9 L961.6,273.9 L963.4,272.6 L965.2,272.3 L967.0,272.4 L968.8,272.0 L970.6,270.5 L972.3,268.0 L974.1,265.6 L975.9,264.0 L977.7,263.3 L979.5,262.7 L981.3,261.4 L983.1,259.1 L984.9,256.2 L986.6,253.7 L988.4,251.9 L990.2,250.8 L992.0,249.6 L993.8,247.7 L995.6,245.0 L997.4,242.1 L999.1,239.6 L1000.9,238.0 L1002.7,236.8 L1004.5,235.4 L1006.3,233.3 L1008.1,230.7 L1009.9,228.1 L1011.7,226.0 L1013.4,224.8 L1015.2,223.8 L1017.0,222.5 L1018.8,220.7 L1020.6,218.5 L1022.4,216.5 L1024.2,215.2 L1026.0,214.5 L1027.7,214.0 L1029.5,213.2 L1031.3,211.9 L1033.1,210.5 L1034.9,209.4 L1036.7,209.0 L1038.5,209.1 L1040.3,209.3 L1042.0,209.0 L1043.8,208.5 L1045.6,207.9 L1047.4,207.8 L1049.2,208.4 L1051.0,209.2 L1052.8,210.0 L1054.6,210.4 L1056.3,210.6 L1058.1,210.9 L1059.9,211.7 L1061.7,213.0 L1063.5,214.5 L1065.3,215.8 L1067.1,216.8 L1068.9,217.6 L1070.6,218.7 L1072.4,220.2 L1074.2,222.0 L1076.0,223.9 L1077.8,225.6 L1079.6,227.0 L1081.4,228.3 L1083.1,229.8 L1084.9,231.8 L1086.7,233.9 L1088.5,236.0 L1090.3,237.8 L1092.1,239.4 L1093.9,240.9 L1095.7,242.7 L1097.4,244.7 L1099.2,246.9 L1101.0,248.8 L1102.8,250.5 L1104.6,251.9 L1106.4,253.4 L1108.2,255.0 L1110.0,256.9 L1111.7,258.7 L1113.5,260.3 L1115.3,261.5 L1117.1,262.6 L1118.9,263.7 L1120.7,265.0 L1122.5,266.3 L1124.3,267.5 L1126.0,268.5 L1127.8,269.1 L1129.6,269.6 L1131.4,270.2 L1133.2,270.8 L1135.0,271.5 L1136.8,272.0 L1138.6,272.1 L1140.3,272.0 L1142.1,271.8 L1143.9,271.7 L1145.7,271.6 L1147.5,271.4 L1149.3,271.0 L1151.1,270.3 L1152.9,269.4 L1154.6,268.5 L1156.4,267.6 L1158.2,266.7 L1160.0,265.8 L1161.8,264.5 L1163.6,263.1 L1165.4,261.5 L1167.1,259.9 L1168.9,258.4 L1170.7,256.9 L1172.5,255.3 L1174.3,253.6 L1176.1,251.6 L1177.9,249.6 L1179.7,247.7 L1181.4,245.9 L1183.2,244.1 L1185.0,242.3 L1186.8,240.3 L1188.6,238.2 L1190.4,236.2 L1192.2,234.3 L1194.0,232.5 L1195.7,230.8 L1197.5,229.0 L1199.3,227.2 L1201.1,225.4 L1202.9,223.7 L1204.7,222.2 L1206.5,220.8 L1208.3,219.5 L1210.0,218.2 L1211.8,216.8 L1213.6,215.6 L1215.4,214.6 L1217.2,213.7 L1219.0,213.0 L1220.8,212.4 L1222.6,211.8 L1224.3,211.3 L1226.1,210.9 L1227.9,210.6 L1229.7,210.6 L1231.5,210.7 L1233.3,210.9 L1235.1,211.1 L1236.9,211.3 L1238.6,211.8 L1240.4,212.4 L1242.2,213.1 L1244.0,214.0 L1245.8,214.8 L1247.6,215.8 L1249.4,216.8 L1251.1,217.9 L1252.9,219.2 L1254.7,220.6 L1256.5,222.0 L1258.3,223.5 L1260.1,224.9 L1261.9,226.5 L1263.7,228.1 L1265.4,229.8 L1267.2,231.6 L1269.0,233.4 L1270.8,235.2 L1272.6,236.9 L1274.4,238.7 L1276.2,240.6 L1278.0,242.5 L1279.7,244.4 L1281.5,246.2 L1283.3,248.0 L1285.1,249.7 L1286.9,251.5 L1288.7,253.2 L1290.5,254.9 L1292.3,256.6 L1294.0,258.2 L1295.8,259.7 L1297.6,261.1 L1299.4,262.4 L1301.2,263.7 L1303.0,265.0 L1304.8,266.2 L1306.6,267.2 L1308.3,268.1 L1310.1,269.0 L1311.9,269.7 L1313.7,270.4 L1315.5,271.0 L1317.3,271.4 L1319.1,271.8 L1320.9,271.9 L1322.6,272.0 L1324.4,272.0 L1326.2,271.9 L1328.0,271.7 L1329.8,271.3 L1331.6,270.8 L1333.4,270.1 L1335.1,269.4 L1336.9,268.6 L1338.7,267.6 L1340.5,266.6 L1342.3,265.4 L1344.1,264.1 L1345.9,262.7 L1347.7,261.3 L1349.4,259.8 L1351.2,258.2 L1353.0,256.5 L1354.8,254.8 L1356.6,252.9 L1358.4,251.1 L1360.2,249.2 L1362.0,247.3 L1363.7,245.4 L1365.5,243.5 L1367.3,241.5 L1369.1,239.5 L1370.9,237.6 L1372.7,235.6 L1374.5,233.8 L1376.3,231.9 L1378.0,230.1 L1379.8,228.3 L1381.6,226.5 L1383.4,224.8 L1385.2,223.3 L1387.0,221.7 L1388.8,220.3 L1390.6,219.0 L1392.3,217.7 L1394.1,216.5 L1395.9,215.4 L1397.7,214.5 L1399.5,213.7 L1401.3,213.0 L1403.1,212.4 L1404.9,211.9 L1406.6,211.5 L1408.4,211.3 L1410.2,211.1 L1412.0,211.2 L1413.8,211.3 L1415.6,211.5 L1417.4,211.9 L1419.1,212.4 L1420.9,213.0 L1422.7,213.7 L1424.5,214.5 L1426.3,215.5 L1428.1,216.5 L1429.9,217.6 L1431.7,218.8 L1433.4,220.2 L1435.2,221.6 L1437.0,223.0 L1438.8,224.6 L1440.6,226.2 L1442.4,227.9 L1444.2,229.6 L1446.0,231.4 L1447.7,233.2 L1449.5,235.1 L1451.3,236.9 L1453.1,238.8 L1454.9,240.7 L1456.7,242.6 L1458.5,244.5 L1460.3,246.4 L1462.0,248.3 L1463.8,250.1 L1465.6,251.9 L1467.4,253.6 L1469.2,255.4 L1471.0,257.0 L1472.8,258.6 L1474.6,260.1 L1476.3,261.6 L1478.1,262.9 L1479.9,264.2 L1481.7,265.4 L1483.5,266.5 L1485.3,267.5 L1487.1,268.4 L1488.9,269.2 L1490.6,269.8 L1492.4,270.4 L1494.2,270.9 L1496.0,271.2 L1497.8,271.4 L1499.6,271.5 L1501.4,271.5 L1503.1,271.4 L1504.9,271.1 L1506.7,270.8 L1508.5,270.3 L1510.3,269.8 L1512.1,269.1 L1513.9,268.3 L1515.7,267.5 L1517.4,266.5 L1519.2,265.5 L1521.0,264.3 L1522.8,263.1 L1524.6,261.8 L1526.4,260.5 L1528.2,259.0 L1530.0,257.6 L1531.7,256.0 L1533.5,254.4 L1535.3,252.8 L1537.1,251.1 L1538.9,249.3 L1540.7,247.6 L1542.5,245.8 L1544.3,244.0 L1546.0,242.2 L1547.8,240.4 L1549.6,238.6 L1551.4,236.9 L1553.2,235.1 L1555.0,233.4 L1556.8,231.6 L1558.6,230.0 L1560.3,228.3 L1562.1,226.8 L1563.9,225.2 L1565.7,223.8 L1567.5,222.4 L1569.3,221.0 L1571.1,219.8 L1572.9,218.6 L1574.6,217.5 L1576.4,216.5 L1578.2,215.6 L1580.0,214.7" stroke="#0b800f" stroke-width="7.5"/>
<path class="cv" d="M152.0,31.8 L153.8,26.5 L155.6,22.2 L157.4,18.7 L159.1,16.2 L160.9,14.6 L162.7,14.0 L164.5,14.3 L166.3,15.5 L168.1,17.7 L169.9,20.8 L171.7,24.9 L173.4,29.8 L175.2,35.7 L177.0,42.4 L178.8,49.9 L180.6,58.3 L182.4,67.4 L184.2,77.3 L186.0,87.8 L187.7,99.0 L189.5,110.8 L191.3,123.2 L193.1,136.0 L194.9,149.3 L196.7,163.0 L198.5,177.1 L200.3,191.4 L202.0,205.9 L203.8,220.6 L205.6,235.4 L207.4,250.2 L209.2,264.9 L211.0,279.6 L212.8,294.1 L214.6,308.4 L216.3,322.4 L218.1,336.1 L219.9,349.4 L221.7,362.2 L223.5,374.5 L225.3,386.3 L227.1,397.5 L228.9,408.0 L230.6,417.8 L232.4,426.8 L234.2,435.1 L236.0,442.6 L237.8,449.2 L239.6,455.0 L241.4,459.8 L243.1,463.8 L244.9,466.8 L246.7,468.9 L248.5,470.0 L250.3,470.1 L252.1,469.3 L253.9,467.5 L255.7,464.8 L257.4,461.1 L259.2,456.5 L261.0,451.0 L262.8,444.6 L264.6,437.4 L266.4,429.3 L268.2,420.5 L270.0,410.9 L271.7,400.6 L273.5,389.6 L275.3,378.1 L277.1,366.0 L278.9,353.3 L280.7,340.2 L282.5,326.7 L284.3,312.8 L286.0,298.6 L287.8,284.2 L289.6,269.6 L291.4,254.9 L293.2,240.1 L295.0,225.2 L296.8,210.4 L298.6,195.7 L300.3,181.2 L302.1,166.9 L303.9,152.9 L305.7,139.2 L307.5,126.0 L309.3,113.3 L311.1,101.1 L312.9,89.6 L314.6,78.7 L316.4,68.6 L318.2,59.2 L320.0,50.6 L321.8,42.9 L323.6,36.1 L325.4,30.2 L327.1,25.3 L328.9,21.2 L330.7,18.0 L332.5,15.9 L334.3,14.6 L336.1,14.3 L337.9,15.0 L339.7,16.7 L341.4,19.3 L343.2,22.8 L345.0,27.3 L346.8,32.6 L348.6,38.9 L350.4,46.0 L352.2,53.9 L354.0,62.6 L355.7,72.1 L357.5,82.3 L359.3,93.1 L361.1,104.6 L362.9,116.6 L364.7,129.2 L366.5,142.3 L368.3,155.7 L370.0,169.6 L371.8,183.7 L373.6,198.1 L375.4,212.7 L377.2,227.4 L379.0,242.1 L380.8,256.9 L382.6,271.6 L384.3,286.2 L386.1,300.6 L387.9,314.7 L389.7,328.6 L391.5,342.1 L393.3,355.2 L395.1,367.8 L396.9,379.8 L398.6,391.3 L400.4,402.2 L402.2,412.4 L404.0,421.9 L405.8,430.6 L407.6,438.5 L409.4,445.6 L411.1,451.8 L412.9,457.2 L414.7,461.6 L416.5,465.1 L418.3,467.6 L420.1,469.2 L421.9,469.8 L423.7,469.4 L425.4,468.1 L427.2,465.8 L429.0,462.5 L430.8,458.2 L432.6,453.0 L434.4,446.9 L436.2,440.0 L438.0,432.2 L439.7,423.5 L441.5,414.1 L443.3,403.9 L445.1,393.1 L446.9,381.5 L448.7,369.4 L450.5,356.8 L452.3,343.6 L454.0,330.0 L455.8,316.0 L457.6,301.7 L459.4,287.1 L461.2,272.4 L463.0,257.5 L464.8,242.5 L466.6,227.5 L468.3,212.6 L470.1,197.9 L471.9,183.3 L473.7,168.9 L475.5,154.9 L477.3,141.3 L479.1,128.1 L480.9,115.4 L482.6,103.2 L484.4,91.6 L486.2,80.7 L488.0,70.5 L489.8,61.1 L491.6,52.4 L493.4,44.6 L495.1,37.7 L496.9,31.6 L498.7,26.5 L500.5,22.3 L502.3,19.1 L504.1,16.9 L505.9,15.7 L507.7,15.5 L509.4,16.3 L511.2,18.1 L513.0,20.9 L514.8,24.7 L516.6,29.5 L518.4,35.3 L520.2,42.0 L522.0,49.6 L523.7,58.0 L525.5,67.3 L527.3,77.4 L529.1,88.3 L530.9,99.8 L532.7,112.0 L534.5,124.8 L536.3,138.2 L538.0,152.0 L539.8,166.2 L541.6,180.8 L543.4,195.7 L545.2,210.8 L547.0,226.0 L548.8,241.4 L550.6,256.7 L552.3,272.0 L554.1,287.1 L555.9,302.1 L557.7,316.7 L559.5,331.1 L561.3,345.0 L563.1,358.4 L564.9,371.3 L566.6,383.6 L568.4,395.3 L570.2,406.2 L572.0,416.4 L573.8,425.7 L575.6,434.2 L577.4,441.8 L579.1,448.4 L580.9,454.1 L582.7,458.8 L584.5,462.4 L586.3,465.0 L588.1,466.5 L589.9,466.9 L591.7,466.3 L593.4,464.6 L595.2,461.9 L597.0,458.1 L598.8,453.2 L600.6,447.4 L602.4,440.5 L604.2,432.7 L606.0,424.0 L607.7,414.5 L609.5,404.1 L611.3,392.9 L613.1,381.0 L614.9,368.5 L616.7,355.3 L618.5,341.6 L620.3,327.4 L622.0,312.8 L623.8,297.9 L625.6,282.7 L627.4,267.3 L629.2,251.8 L631.0,236.2 L632.8,220.7 L634.6,205.3 L636.3,190.0 L638.1,175.0 L639.9,160.4 L641.7,146.1 L643.5,132.4 L645.3,119.1 L647.1,106.5 L648.9,94.6 L650.6,83.4 L652.4,73.0 L654.2,63.4 L656.0,54.7 L657.8,47.0 L659.6,40.3 L661.4,34.6 L663.1,30.0 L664.9,26.5 L666.7,24.1 L668.5,22.8 L670.3,22.7 L672.1,23.7 L673.9,25.8 L675.7,29.1 L677.4,33.6 L679.2,39.1 L681.0,45.7 L682.8,53.3 L684.6,62.0 L686.4,71.6 L688.2,82.1 L690.0,93.5 L691.7,105.7 L693.5,118.7 L695.3,132.2 L697.1,146.4 L698.9,161.1 L700.7,176.3 L702.5,191.7 L704.3,207.5 L706.0,223.4 L707.8,239.4 L709.6,255.4 L711.4,271.3 L713.2,287.0 L715.0,302.5 L716.8,317.5 L718.6,332.2 L720.3,346.2 L722.1,359.7 L723.9,372.4 L725.7,384.3 L727.5,395.4 L729.3,405.7 L731.1,414.9 L732.9,423.2 L734.6,430.3 L736.4,436.2 L738.2,440.7 L740.0,443.7 L741.8,445.4 L743.6,445.8 L745.4,444.9 L747.1,442.8 L748.9,439.5 L750.7,435.1 L752.5,429.6 L754.3,423.1 L756.1,415.7 L757.9,407.4 L759.7,398.2 L761.4,388.2 L763.2,377.5 L765.0,366.1 L766.8,354.1 L768.6,341.5 L770.4,328.3 L772.2,314.7 L774.0,300.6 L775.7,285.8 L777.5,270.1 L779.3,253.1 L781.1,234.6 L782.9,215.7 L784.7,199.3 L786.5,187.5 L788.3,178.8 L790.0,171.1 L791.8,163.4 L793.6,156.3 L795.4,150.6 L797.2,147.0 L799.0,145.4 L800.8,145.8 L802.6,148.2 L804.3,152.4 L806.1,158.2 L807.9,165.6 L809.7,174.6 L811.5,185.0 L813.3,196.3 L815.1,207.7 L816.9,218.9 L818.6,229.6 L820.4,239.9 L822.2,249.3 L824.0,257.1 L825.8,262.6 L827.6,265.9 L829.4,267.2 L831.1,267.0 L832.9,265.2 L834.7,261.4 L836.5,255.7 L838.3,249.0 L840.1,242.5 L841.9,236.8 L843.7,232.3 L845.4,229.3 L847.2,227.7 L849.0,227.6 L850.8,228.9 L852.6,231.0 L854.4,233.7 L856.2,236.7 L858.0,240.0 L859.7,242.9 L861.5,244.3 L863.3,243.6 L865.1,241.7 L866.9,239.5 L868.7,237.0 L870.5,234.3 L872.3,231.3 L874.0,228.7 L875.8,226.8 L877.6,226.4 L879.4,227.6 L881.2,229.8 L883.0,232.6 L884.8,235.6 L886.6,238.2 L888.3,239.8 L890.1,239.9 L891.9,238.6 L893.7,236.3 L895.5,233.8 L897.3,231.3 L899.1,229.2 L900.9,227.5 L902.6,226.7 L904.4,227.3 L906.2,228.9 L908.0,230.5 L909.8,231.7 L911.6,232.6 L913.4,233.3 L915.1,233.8 L916.9,234.3 L918.7,234.8 L920.5,235.2 L922.3,235.7 L924.1,236.1 L925.9,236.6 L927.7,237.0 L929.4,237.5 L931.2,238.0 L933.0,238.4 L934.8,238.9 L936.6,239.4 L938.4,239.8 L940.2,240.3 L942.0,240.8 L943.7,241.3 L945.5,241.8 L947.3,242.3 L949.1,242.9 L950.9,243.4 L952.7,244.0 L954.5,244.5 L956.3,245.1 L958.0,245.6 L959.8,246.1 L961.6,246.6 L963.4,247.0 L965.2,247.4 L967.0,247.8 L968.8,248.2 L970.6,248.4 L972.3,248.7 L974.1,248.9 L975.9,249.0 L977.7,249.1 L979.5,249.2 L981.3,249.3 L983.1,249.3 L984.9,249.3 L986.6,249.3 L988.4,249.3 L990.2,249.2 L992.0,249.2 L993.8,249.1 L995.6,249.0 L997.4,249.0 L999.1,248.9 L1000.9,248.8 L1002.7,248.7 L1004.5,248.5 L1006.3,248.4 L1008.1,248.2 L1009.9,248.0 L1011.7,247.8 L1013.4,247.5 L1015.2,247.2 L1017.0,246.9 L1018.8,246.6 L1020.6,246.2 L1022.4,245.8 L1024.2,245.4 L1026.0,245.0 L1027.7,244.6 L1029.5,244.2 L1031.3,243.7 L1033.1,243.2 L1034.9,242.8 L1036.7,242.3 L1038.5,241.8 L1040.3,241.3 L1042.0,240.9 L1043.8,240.4 L1045.6,239.9 L1047.4,239.4 L1049.2,238.9 L1051.0,238.5 L1052.8,238.0 L1054.6,237.5 L1056.3,237.1 L1058.1,236.7 L1059.9,236.3 L1061.7,235.9 L1063.5,235.5 L1065.3,235.1 L1067.1,234.8 L1068.9,234.5 L1070.6,234.2 L1072.4,233.9 L1074.2,233.6 L1076.0,233.4 L1077.8,233.2 L1079.6,233.0 L1081.4,232.9 L1083.1,232.8 L1084.9,232.7 L1086.7,232.6 L1088.5,232.6 L1090.3,232.6 L1092.1,232.6 L1093.9,232.6 L1095.7,232.7 L1097.4,232.8 L1099.2,233.0 L1101.0,233.1 L1102.8,233.3 L1104.6,233.5 L1106.4,233.8 L1108.2,234.1 L1110.0,234.4 L1111.7,234.7 L1113.5,235.0 L1115.3,235.4 L1117.1,235.8 L1118.9,236.2 L1120.7,236.6 L1122.5,237.1 L1124.3,237.5 L1126.0,238.0 L1127.8,238.5 L1129.6,239.0 L1131.4,239.5 L1133.2,240.0 L1135.0,240.5 L1136.8,241.0 L1138.6,241.5 L1140.3,242.0 L1142.1,242.5 L1143.9,243.1 L1145.7,243.6 L1147.5,244.1 L1149.3,244.6 L1151.1,245.0 L1152.9,245.5 L1154.6,246.0 L1156.4,246.4 L1158.2,246.8 L1160.0,247.2 L1161.8,247.6 L1163.6,248.0 L1165.4,248.3 L1167.1,248.6 L1168.9,248.9 L1170.7,249.2 L1172.5,249.5 L1174.3,249.7 L1176.1,249.9 L1177.9,250.0 L1179.7,250.2 L1181.4,250.3 L1183.2,250.4 L1185.0,250.4 L1186.8,250.4 L1188.6,250.4 L1190.4,250.4 L1192.2,250.3 L1194.0,250.2 L1195.7,250.0 L1197.5,249.9 L1199.3,249.7 L1201.1,249.5 L1202.9,249.2 L1204.7,248.9 L1206.5,248.6 L1208.3,248.3 L1210.0,248.0 L1211.8,247.6 L1213.6,247.2 L1215.4,246.8 L1217.2,246.3 L1219.0,245.9 L1220.8,245.4 L1222.6,244.9 L1224.3,244.4 L1226.1,243.9 L1227.9,243.4 L1229.7,242.9 L1231.5,242.4 L1233.3,241.8 L1235.1,241.3 L1236.9,240.8 L1238.6,240.2 L1240.4,239.7 L1242.2,239.2 L1244.0,238.7 L1245.8,238.2 L1247.6,237.7 L1249.4,237.2 L1251.1,236.7 L1252.9,236.3 L1254.7,235.8 L1256.5,235.4 L1258.3,235.0 L1260.1,234.6 L1261.9,234.3 L1263.7,234.0 L1265.4,233.7 L1267.2,233.4 L1269.0,233.1 L1270.8,232.9 L1272.6,232.7 L1274.4,232.5 L1276.2,232.4 L1278.0,232.3 L1279.7,232.2 L1281.5,232.2 L1283.3,232.2 L1285.1,232.2 L1286.9,232.3 L1288.7,232.4 L1290.5,232.6 L1292.3,232.7 L1294.0,232.9 L1295.8,233.2 L1297.6,233.5 L1299.4,233.8 L1301.2,234.2 L1303.0,234.5 L1304.8,235.0 L1306.6,235.4 L1308.3,235.9 L1310.1,236.4 L1311.9,236.9 L1313.7,237.4 L1315.5,237.9 L1317.3,238.5 L1319.1,239.1 L1320.9,239.7 L1322.6,240.3 L1324.4,240.9 L1326.2,241.4 L1328.0,242.0 L1329.8,242.6 L1331.6,243.2 L1333.4,243.8 L1335.1,244.4 L1336.9,244.9 L1338.7,245.5 L1340.5,246.0 L1342.3,246.5 L1344.1,247.0 L1345.9,247.5 L1347.7,247.9 L1349.4,248.3 L1351.2,248.7 L1353.0,249.0 L1354.8,249.3 L1356.6,249.6 L1358.4,249.8 L1360.2,250.1 L1362.0,250.2 L1363.7,250.4 L1365.5,250.4 L1367.3,250.5 L1369.1,250.5 L1370.9,250.5 L1372.7,250.5 L1374.5,250.4 L1376.3,250.2 L1378.0,250.1 L1379.8,249.9 L1381.6,249.7 L1383.4,249.4 L1385.2,249.1 L1387.0,248.8 L1388.8,248.5 L1390.6,248.1 L1392.3,247.7 L1394.1,247.3 L1395.9,246.9 L1397.7,246.4 L1399.5,245.9 L1401.3,245.4 L1403.1,244.9 L1404.9,244.4 L1406.6,243.9 L1408.4,243.3 L1410.2,242.8 L1412.0,242.3 L1413.8,241.7 L1415.6,241.2 L1417.4,240.6 L1419.1,240.1 L1420.9,239.5 L1422.7,239.0 L1424.5,238.5 L1426.3,238.0 L1428.1,237.5 L1429.9,237.0 L1431.7,236.6 L1433.4,236.1 L1435.2,235.7 L1437.0,235.3 L1438.8,235.0 L1440.6,234.6 L1442.4,234.3 L1444.2,234.0 L1446.0,233.8 L1447.7,233.6 L1449.5,233.4 L1451.3,233.2 L1453.1,233.1 L1454.9,233.0 L1456.7,233.0 L1458.5,233.0 L1460.3,233.0 L1462.0,233.1 L1463.8,233.1 L1465.6,233.3 L1467.4,233.4 L1469.2,233.6 L1471.0,233.8 L1472.8,234.1 L1474.6,234.4 L1476.3,234.7 L1478.1,235.1 L1479.9,235.4 L1481.7,235.8 L1483.5,236.2 L1485.3,236.7 L1487.1,237.1 L1488.9,237.6 L1490.6,238.1 L1492.4,238.6 L1494.2,239.2 L1496.0,239.7 L1497.8,240.2 L1499.6,240.8 L1501.4,241.3 L1503.1,241.9 L1504.9,242.4 L1506.7,243.0 L1508.5,243.5 L1510.3,244.0 L1512.1,244.6 L1513.9,245.1 L1515.7,245.6 L1517.4,246.1 L1519.2,246.5 L1521.0,246.9 L1522.8,247.4 L1524.6,247.8 L1526.4,248.1 L1528.2,248.5 L1530.0,248.8 L1531.7,249.0 L1533.5,249.3 L1535.3,249.5 L1537.1,249.7 L1538.9,249.8 L1540.7,250.0 L1542.5,250.0 L1544.3,250.1 L1546.0,250.1 L1547.8,250.1 L1549.6,250.0 L1551.4,249.9 L1553.2,249.8 L1555.0,249.7 L1556.8,249.5 L1558.6,249.2 L1560.3,249.0 L1562.1,248.7 L1563.9,248.4 L1565.7,248.0 L1567.5,247.7 L1569.3,247.3 L1571.1,246.9 L1572.9,246.4 L1574.6,246.0 L1576.4,245.5 L1578.2,245.0 L1580.0,244.5" stroke="#fc1a22" stroke-width="7.6" stroke-dasharray="7.6 7.9"/>
<path class="cv" d="M152.0,31.8 L153.8,28.7 L155.6,26.5 L157.4,25.2 L159.1,24.8 L160.9,25.2 L162.7,26.6 L164.5,28.9 L166.3,32.0 L168.1,36.1 L169.9,41.0 L171.7,46.7 L173.4,53.2 L175.2,60.6 L177.0,68.7 L178.8,77.5 L180.6,87.0 L182.4,97.2 L184.2,107.9 L186.0,119.3 L187.7,131.1 L189.5,143.4 L191.3,156.2 L193.1,169.3 L194.9,182.7 L196.7,196.3 L198.5,210.2 L200.3,224.2 L202.0,238.2 L203.8,252.3 L205.6,266.4 L207.4,280.3 L209.2,294.1 L211.0,307.6 L212.8,320.9 L214.6,333.9 L216.3,346.5 L218.1,358.6 L219.9,370.2 L221.7,381.3 L223.5,391.8 L225.3,401.7 L227.1,410.9 L228.9,419.4 L230.6,427.1 L232.4,434.1 L234.2,440.2 L236.0,445.6 L237.8,450.0 L239.6,453.6 L241.4,456.3 L243.1,458.0 L244.9,458.9 L246.7,458.8 L248.5,457.8 L250.3,456.0 L252.1,453.2 L253.9,449.5 L255.7,444.9 L257.4,439.5 L259.2,433.2 L261.0,426.1 L262.8,418.2 L264.6,409.6 L266.4,400.3 L268.2,390.3 L270.0,379.6 L271.7,368.2 L273.5,356.3 L275.3,343.9 L277.1,331.1 L278.9,317.8 L280.7,304.2 L282.5,290.4 L284.3,276.3 L286.0,262.1 L287.8,247.9 L289.6,233.6 L291.4,219.4 L293.2,205.3 L295.0,191.4 L296.8,177.7 L298.6,164.4 L300.3,151.4 L302.1,138.9 L303.9,126.8 L305.7,115.1 L307.5,104.1 L309.3,93.6 L311.1,83.8 L312.9,74.6 L314.6,66.1 L316.4,58.3 L318.2,51.3 L320.0,45.1 L321.8,39.6 L323.6,35.0 L325.4,31.2 L327.1,28.4 L328.9,26.4 L330.7,25.3 L332.5,25.2 L334.3,25.9 L336.1,27.6 L337.9,30.2 L339.7,33.7 L341.4,38.0 L343.2,43.2 L345.0,49.3 L346.8,56.1 L348.6,63.8 L350.4,72.1 L352.2,81.2 L354.0,91.0 L355.7,101.4 L357.5,112.4 L359.3,123.9 L361.1,135.9 L362.9,148.4 L364.7,161.3 L366.5,174.5 L368.3,188.0 L370.0,201.7 L371.8,215.6 L373.6,229.6 L375.4,243.6 L377.2,257.6 L379.0,271.6 L380.8,285.5 L382.6,299.2 L384.3,312.6 L386.1,325.8 L387.9,338.6 L389.7,350.9 L391.5,362.9 L393.3,374.3 L395.1,385.2 L396.9,395.5 L398.6,405.1 L400.4,414.1 L402.2,422.3 L404.0,429.8 L405.8,436.5 L407.6,442.3 L409.4,447.3 L411.1,451.5 L412.9,454.7 L414.7,457.1 L416.5,458.5 L418.3,459.0 L420.1,458.6 L421.9,457.2 L423.7,455.0 L425.4,451.8 L427.2,447.7 L429.0,442.7 L430.8,436.9 L432.6,430.2 L434.4,422.7 L436.2,414.4 L438.0,405.4 L439.7,395.7 L441.5,385.4 L443.3,374.4 L445.1,362.8 L446.9,350.7 L448.7,338.2 L450.5,325.2 L452.3,311.9 L454.0,298.3 L455.8,284.4 L457.6,270.4 L459.4,256.2 L461.2,241.9 L463.0,227.7 L464.8,213.5 L466.6,199.5 L468.3,185.6 L470.1,172.0 L471.9,158.6 L473.7,145.7 L475.5,133.1 L477.3,121.0 L479.1,109.5 L480.9,98.5 L482.6,88.1 L484.4,78.5 L486.2,69.5 L488.0,61.3 L489.8,53.8 L491.6,47.2 L493.4,41.5 L495.1,36.6 L496.9,32.6 L498.7,29.6 L500.5,27.5 L502.3,26.3 L504.1,26.1 L505.9,26.9 L507.7,28.6 L509.4,31.2 L511.2,34.8 L513.0,39.4 L514.8,44.8 L516.6,51.2 L518.4,58.4 L520.2,66.4 L522.0,75.2 L523.7,84.8 L525.5,95.1 L527.3,106.0 L529.1,117.6 L530.9,129.8 L532.7,142.4 L534.5,155.6 L536.3,169.1 L538.0,182.9 L539.8,197.1 L541.6,211.4 L543.4,225.9 L545.2,240.5 L547.0,255.1 L548.8,269.6 L550.6,284.0 L552.3,298.2 L554.1,312.2 L555.9,325.9 L557.7,339.1 L559.5,352.0 L561.3,364.3 L563.1,376.0 L564.9,387.2 L566.6,397.6 L568.4,407.3 L570.2,416.3 L572.0,424.5 L573.8,431.7 L575.6,438.1 L577.4,443.6 L579.1,448.2 L580.9,451.7 L582.7,454.3 L584.5,455.8 L586.3,456.4 L588.1,455.9 L589.9,454.4 L591.7,451.9 L593.4,448.4 L595.2,443.9 L597.0,438.5 L598.8,432.1 L600.6,424.8 L602.4,416.6 L604.2,407.6 L606.0,397.8 L607.7,387.3 L609.5,376.0 L611.3,364.2 L613.1,351.7 L614.9,338.7 L616.7,325.3 L618.5,311.5 L620.3,297.3 L622.0,282.9 L623.8,268.2 L625.6,253.5 L627.4,238.7 L629.2,223.9 L631.0,209.2 L632.8,194.7 L634.6,180.4 L636.3,166.4 L638.1,152.8 L639.9,139.6 L641.7,126.9 L643.5,114.8 L645.3,103.3 L647.1,92.5 L648.9,82.5 L650.6,73.2 L652.4,64.8 L654.2,57.3 L656.0,50.8 L657.8,45.2 L659.6,40.5 L661.4,37.0 L663.1,34.4 L664.9,33.0 L666.7,32.6 L668.5,33.3 L670.3,35.1 L672.1,38.0 L673.9,41.9 L675.7,46.9 L677.4,53.0 L679.2,60.0 L681.0,68.0 L682.8,76.9 L684.6,86.7 L686.4,97.3 L688.2,108.7 L690.0,120.8 L691.7,133.6 L693.5,146.9 L695.3,160.8 L697.1,175.1 L698.9,189.7 L700.7,204.6 L702.5,219.7 L704.3,234.9 L706.0,250.2 L707.8,265.4 L709.6,280.4 L711.4,295.2 L713.2,309.7 L715.0,323.7 L716.8,337.3 L718.6,350.3 L720.3,362.7 L722.1,374.4 L723.9,385.2 L725.7,395.2 L727.5,404.3 L729.3,412.5 L731.1,419.7 L732.9,425.8 L734.6,430.7 L736.4,434.5 L738.2,437.0 L740.0,438.3 L741.8,438.3 L743.6,437.0 L745.4,434.7 L747.1,431.2 L748.9,426.6 L750.7,421.0 L752.5,414.4 L754.3,406.8 L756.1,398.4 L757.9,389.1 L759.7,379.0 L761.4,368.1 L763.2,356.4 L765.0,344.1 L766.8,331.2 L768.6,317.6 L770.4,303.5 L772.2,288.8 L774.0,273.4 L775.7,257.4 L777.5,240.5 L779.3,223.2 L781.1,206.9 L782.9,193.0 L784.7,181.9 L786.5,172.8 L788.3,165.1 L790.0,158.9 L791.8,154.6 L793.6,152.1 L795.4,151.1 L797.2,151.7 L799.0,154.3 L800.8,159.2 L802.6,166.2 L804.3,174.9 L806.1,185.0 L807.9,196.0 L809.7,207.5 L811.5,219.2 L813.3,230.8 L815.1,241.8 L816.9,252.0 L818.6,261.1 L820.4,268.8 L822.2,274.8 L824.0,279.2 L825.8,281.6 L827.6,281.2 L829.4,278.5 L831.1,274.7 L832.9,270.1 L834.7,264.7 L836.5,258.6 L838.3,252.3 L840.1,246.0 L841.9,240.4 L843.7,235.8 L845.4,232.8 L847.2,231.7 L849.0,232.8 L850.8,235.1 L852.6,238.2 L854.4,242.7 L856.2,248.7 L858.0,254.2 L859.7,258.2 L861.5,260.7 L863.3,262.0 L865.1,262.0 L866.9,261.0 L868.7,259.0 L870.5,256.4 L872.3,253.2 L874.0,250.3 L875.8,248.4 L877.6,248.2 L879.4,249.8 L881.2,252.2 L883.0,254.9 L884.8,257.4 L886.6,259.3 L888.3,260.2 L890.1,260.1 L891.9,258.9 L893.7,257.0 L895.5,254.7 L897.3,252.1 L899.1,249.9 L900.9,248.5 L902.6,248.1 L904.4,247.9 L906.2,247.8 L908.0,247.7 L909.8,247.6 L911.6,247.5 L913.4,247.4 L915.1,247.1 L916.9,246.8 L918.7,246.4 L920.5,245.9 L922.3,245.3 L924.1,244.6 L925.9,243.8 L927.7,243.0 L929.4,242.2 L931.2,241.3 L933.0,240.4 L934.8,239.5 L936.6,238.6 L938.4,237.7 L940.2,236.9 L942.0,236.2 L943.7,235.6 L945.5,235.0 L947.3,234.5 L949.1,234.1 L950.9,233.7 L952.7,233.3 L954.5,233.0 L956.3,232.6 L958.0,232.3 L959.8,232.0 L961.6,231.6 L963.4,231.2 L965.2,230.8 L967.0,230.4 L968.8,229.9 L970.6,229.5 L972.3,229.0 L974.1,228.6 L975.9,228.3 L977.7,228.0 L979.5,227.8 L981.3,227.7 L983.1,227.6 L984.9,227.7 L986.6,227.8 L988.4,228.0 L990.2,228.2 L992.0,228.5 L993.8,228.8 L995.6,229.1 L997.4,229.5 L999.1,229.9 L1000.9,230.4 L1002.7,230.8 L1004.5,231.3 L1006.3,231.8 L1008.1,232.3 L1009.9,232.8 L1011.7,233.4 L1013.4,233.9 L1015.2,234.5 L1017.0,235.2 L1018.8,235.8 L1020.6,236.5 L1022.4,237.1 L1024.2,237.8 L1026.0,238.5 L1027.7,239.2 L1029.5,239.9 L1031.3,240.6 L1033.1,241.3 L1034.9,242.0 L1036.7,242.7 L1038.5,243.4 L1040.3,244.1 L1042.0,244.8 L1043.8,245.5 L1045.6,246.1 L1047.4,246.7 L1049.2,247.4 L1051.0,247.9 L1052.8,248.5 L1054.6,249.1 L1056.3,249.6 L1058.1,250.1 L1059.9,250.6 L1061.7,251.0 L1063.5,251.4 L1065.3,251.8 L1067.1,252.2 L1068.9,252.5 L1070.6,252.8 L1072.4,253.0 L1074.2,253.2 L1076.0,253.4 L1077.8,253.5 L1079.6,253.6 L1081.4,253.7 L1083.1,253.7 L1084.9,253.6 L1086.7,253.5 L1088.5,253.4 L1090.3,253.2 L1092.1,253.0 L1093.9,252.8 L1095.7,252.5 L1097.4,252.1 L1099.2,251.7 L1101.0,251.3 L1102.8,250.8 L1104.6,250.3 L1106.4,249.8 L1108.2,249.2 L1110.0,248.6 L1111.7,247.9 L1113.5,247.3 L1115.3,246.6 L1117.1,245.9 L1118.9,245.2 L1120.7,244.4 L1122.5,243.7 L1124.3,242.9 L1126.0,242.1 L1127.8,241.4 L1129.6,240.6 L1131.4,239.8 L1133.2,239.1 L1135.0,238.3 L1136.8,237.6 L1138.6,236.8 L1140.3,236.1 L1142.1,235.4 L1143.9,234.8 L1145.7,234.1 L1147.5,233.5 L1149.3,232.9 L1151.1,232.4 L1152.9,231.9 L1154.6,231.4 L1156.4,231.0 L1158.2,230.6 L1160.0,230.2 L1161.8,229.9 L1163.6,229.6 L1165.4,229.4 L1167.1,229.2 L1168.9,229.1 L1170.7,229.0 L1172.5,229.0 L1174.3,229.0 L1176.1,229.1 L1177.9,229.2 L1179.7,229.3 L1181.4,229.5 L1183.2,229.8 L1185.0,230.1 L1186.8,230.4 L1188.6,230.7 L1190.4,231.1 L1192.2,231.6 L1194.0,232.1 L1195.7,232.6 L1197.5,233.1 L1199.3,233.7 L1201.1,234.3 L1202.9,234.9 L1204.7,235.6 L1206.5,236.2 L1208.3,236.9 L1210.0,237.7 L1211.8,238.4 L1213.6,239.1 L1215.4,239.9 L1217.2,240.6 L1219.0,241.4 L1220.8,242.1 L1222.6,242.9 L1224.3,243.6 L1226.1,244.4 L1227.9,245.1 L1229.7,245.9 L1231.5,246.6 L1233.3,247.3 L1235.1,247.9 L1236.9,248.6 L1238.6,249.2 L1240.4,249.8 L1242.2,250.4 L1244.0,250.9 L1245.8,251.4 L1247.6,251.9 L1249.4,252.4 L1251.1,252.8 L1252.9,253.1 L1254.7,253.5 L1256.5,253.7 L1258.3,254.0 L1260.1,254.2 L1261.9,254.3 L1263.7,254.4 L1265.4,254.5 L1267.2,254.5 L1269.0,254.5 L1270.8,254.4 L1272.6,254.2 L1274.4,254.1 L1276.2,253.9 L1278.0,253.6 L1279.7,253.3 L1281.5,252.9 L1283.3,252.5 L1285.1,252.1 L1286.9,251.6 L1288.7,251.1 L1290.5,250.5 L1292.3,249.9 L1294.0,249.3 L1295.8,248.6 L1297.6,248.0 L1299.4,247.3 L1301.2,246.5 L1303.0,245.8 L1304.8,245.0 L1306.6,244.2 L1308.3,243.5 L1310.1,242.7 L1311.9,241.9 L1313.7,241.1 L1315.5,240.3 L1317.3,239.5 L1319.1,238.7 L1320.9,237.9 L1322.6,237.2 L1324.4,236.4 L1326.2,235.7 L1328.0,235.0 L1329.8,234.4 L1331.6,233.7 L1333.4,233.1 L1335.1,232.5 L1336.9,231.9 L1338.7,231.4 L1340.5,231.0 L1342.3,230.5 L1344.1,230.1 L1345.9,229.8 L1347.7,229.5 L1349.4,229.2 L1351.2,229.0 L1353.0,228.8 L1354.8,228.7 L1356.6,228.6 L1358.4,228.6 L1360.2,228.6 L1362.0,228.7 L1363.7,228.8 L1365.5,229.0 L1367.3,229.2 L1369.1,229.5 L1370.9,229.8 L1372.7,230.2 L1374.5,230.6 L1376.3,231.0 L1378.0,231.5 L1379.8,232.1 L1381.6,232.6 L1383.4,233.2 L1385.2,233.9 L1387.0,234.5 L1388.8,235.2 L1390.6,236.0 L1392.3,236.7 L1394.1,237.5 L1395.9,238.2 L1397.7,239.0 L1399.5,239.8 L1401.3,240.6 L1403.1,241.4 L1404.9,242.2 L1406.6,243.0 L1408.4,243.8 L1410.2,244.6 L1412.0,245.4 L1413.8,246.2 L1415.6,246.9 L1417.4,247.6 L1419.1,248.3 L1420.9,249.0 L1422.7,249.6 L1424.5,250.2 L1426.3,250.8 L1428.1,251.3 L1429.9,251.8 L1431.7,252.3 L1433.4,252.7 L1435.2,253.1 L1437.0,253.4 L1438.8,253.7 L1440.6,253.9 L1442.4,254.1 L1444.2,254.2 L1446.0,254.3 L1447.7,254.3 L1449.5,254.3 L1451.3,254.2 L1453.1,254.1 L1454.9,253.9 L1456.7,253.6 L1458.5,253.4 L1460.3,253.0 L1462.0,252.7 L1463.8,252.2 L1465.6,251.8 L1467.4,251.3 L1469.2,250.7 L1471.0,250.2 L1472.8,249.5 L1474.6,248.9 L1476.3,248.2 L1478.1,247.5 L1479.9,246.8 L1481.7,246.1 L1483.5,245.3 L1485.3,244.5 L1487.1,243.7 L1488.9,242.9 L1490.6,242.2 L1492.4,241.4 L1494.2,240.6 L1496.0,239.8 L1497.8,239.0 L1499.6,238.3 L1501.4,237.5 L1503.1,236.8 L1504.9,236.1 L1506.7,235.4 L1508.5,234.8 L1510.3,234.2 L1512.1,233.6 L1513.9,233.0 L1515.7,232.5 L1517.4,232.1 L1519.2,231.7 L1521.0,231.3 L1522.8,231.0 L1524.6,230.7 L1526.4,230.5 L1528.2,230.3 L1530.0,230.2 L1531.7,230.1 L1533.5,230.0 L1535.3,230.1 L1537.1,230.1 L1538.9,230.3 L1540.7,230.4 L1542.5,230.6 L1544.3,230.9 L1546.0,231.2 L1547.8,231.6 L1549.6,232.0 L1551.4,232.4 L1553.2,232.9 L1555.0,233.4 L1556.8,233.9 L1558.6,234.5 L1560.3,235.1 L1562.1,235.7 L1563.9,236.4 L1565.7,237.0 L1567.5,237.7 L1569.3,238.5 L1571.1,239.2 L1572.9,239.9 L1574.6,240.7 L1576.4,241.4 L1578.2,242.2 L1580.0,243.0" stroke="#2a0afa" stroke-width="7.6" stroke-dasharray="7.6 7.9"/>
<path class="cv" d="M152.0,31.8 L153.8,33.6 L155.6,36.3 L157.4,39.9 L159.1,44.3 L160.9,49.6 L162.7,55.6 L164.5,62.4 L166.3,70.0 L168.1,78.3 L169.9,87.3 L171.7,96.9 L173.4,107.1 L175.2,117.9 L177.0,129.3 L178.8,141.1 L180.6,153.3 L182.4,165.9 L184.2,178.9 L186.0,192.1 L187.7,205.5 L189.5,219.0 L191.3,232.7 L193.1,246.4 L194.9,260.1 L196.7,273.7 L198.5,287.2 L200.3,300.5 L202.0,313.5 L203.8,326.3 L205.6,338.7 L207.4,350.6 L209.2,362.2 L211.0,373.2 L212.8,383.6 L214.6,393.5 L216.3,402.7 L218.1,411.2 L219.9,419.0 L221.7,426.1 L223.5,432.4 L225.3,437.9 L227.1,442.5 L228.9,446.3 L230.6,449.3 L232.4,451.5 L234.2,452.9 L236.0,453.5 L237.8,453.3 L239.6,452.2 L241.4,450.3 L243.1,447.5 L244.9,443.8 L246.7,439.3 L248.5,433.8 L250.3,427.6 L252.1,420.4 L253.9,412.4 L255.7,403.6 L257.4,394.0 L259.2,383.6 L261.0,372.6 L262.8,360.9 L264.6,348.7 L266.4,336.0 L268.2,322.9 L270.0,309.4 L271.7,295.7 L273.5,281.7 L275.3,267.6 L277.1,253.2 L278.9,238.7 L280.7,224.1 L282.5,209.5 L284.3,195.0 L286.0,180.7 L287.8,166.8 L289.6,153.2 L291.4,140.2 L293.2,127.8 L295.0,116.1 L296.8,105.1 L298.6,94.8 L300.3,85.2 L302.1,76.4 L303.9,68.3 L305.7,61.1 L307.5,54.6 L309.3,49.0 L311.1,44.1 L312.9,40.1 L314.6,36.8 L316.4,34.3 L318.2,32.7 L320.0,31.8 L321.8,31.6 L323.6,32.2 L325.4,33.6 L327.1,35.9 L328.9,39.1 L330.7,43.1 L332.5,48.0 L334.3,53.7 L336.1,60.2 L337.9,67.4 L339.7,75.4 L341.4,84.1 L343.2,93.5 L345.0,103.5 L346.8,114.0 L348.6,125.2 L350.4,136.7 L352.2,148.8 L354.0,161.2 L355.7,174.0 L357.5,187.0 L359.3,200.3 L361.1,213.7 L362.9,227.3 L364.7,240.9 L366.5,254.6 L368.3,268.2 L370.0,281.6 L371.8,294.9 L373.6,308.0 L375.4,320.8 L377.2,333.3 L379.0,345.3 L380.8,357.0 L382.6,368.2 L384.3,378.8 L386.1,388.8 L387.9,398.3 L389.7,407.1 L391.5,415.1 L393.3,422.5 L395.1,429.1 L396.9,434.9 L398.6,439.9 L400.4,444.0 L402.2,447.3 L404.0,449.7 L405.8,451.2 L407.6,451.9 L409.4,451.6 L411.1,450.5 L412.9,448.4 L414.7,445.5 L416.5,441.7 L418.3,437.1 L420.1,431.6 L421.9,425.2 L423.7,418.1 L425.4,410.3 L427.2,401.7 L429.0,392.4 L430.8,382.4 L432.6,371.9 L434.4,360.8 L436.2,349.2 L438.0,337.1 L439.7,324.6 L441.5,311.8 L443.3,298.6 L445.1,285.2 L446.9,271.6 L448.7,257.9 L450.5,244.2 L452.3,230.4 L454.0,216.6 L455.8,203.0 L457.6,189.6 L459.4,176.3 L461.2,163.4 L463.0,150.8 L464.8,138.6 L466.6,126.8 L468.3,115.6 L470.1,104.9 L471.9,94.8 L473.7,85.3 L475.5,76.5 L477.3,68.5 L479.1,61.2 L480.9,54.7 L482.6,49.0 L484.4,44.1 L486.2,40.1 L488.0,37.1 L489.8,34.9 L491.6,33.6 L493.4,33.2 L495.1,33.8 L496.9,35.3 L498.7,37.7 L500.5,41.0 L502.3,45.2 L504.1,50.3 L505.9,56.3 L507.7,63.0 L509.4,70.6 L511.2,79.0 L513.0,88.1 L514.8,97.9 L516.6,108.3 L518.4,119.4 L520.2,131.0 L522.0,143.1 L523.7,155.6 L525.5,168.6 L527.3,181.9 L529.1,195.5 L530.9,209.2 L532.7,223.2 L534.5,237.2 L536.3,251.3 L538.0,265.3 L539.8,279.2 L541.6,293.0 L543.4,306.5 L545.2,319.7 L547.0,332.6 L548.8,345.1 L550.6,357.1 L552.3,368.5 L554.1,379.4 L555.9,389.6 L557.7,399.2 L559.5,408.0 L561.3,416.1 L563.1,423.3 L564.9,429.7 L566.6,435.2 L568.4,439.8 L570.2,443.5 L572.0,446.2 L573.8,448.0 L575.6,448.8 L577.4,448.6 L579.1,447.4 L580.9,445.3 L582.7,442.2 L584.5,438.1 L586.3,433.1 L588.1,427.2 L589.9,420.4 L591.7,412.8 L593.4,404.3 L595.2,395.0 L597.0,385.1 L598.8,374.4 L600.6,363.1 L602.4,351.3 L604.2,338.9 L606.0,326.0 L607.7,312.8 L609.5,299.2 L611.3,285.4 L613.1,271.3 L614.9,257.1 L616.7,242.9 L618.5,228.6 L620.3,214.5 L622.0,200.4 L623.8,186.6 L625.6,173.0 L627.4,159.8 L629.2,147.0 L631.0,134.6 L632.8,122.8 L634.6,111.5 L636.3,100.9 L638.1,91.0 L639.9,81.9 L641.7,73.5 L643.5,66.0 L645.3,59.4 L647.1,53.7 L648.9,48.9 L650.6,45.1 L652.4,42.2 L654.2,40.4 L656.0,39.6 L657.8,39.9 L659.6,41.2 L661.4,43.5 L663.1,46.8 L664.9,51.1 L666.7,56.5 L668.5,62.8 L670.3,70.0 L672.1,78.1 L673.9,87.1 L675.7,97.0 L677.4,107.5 L679.2,118.8 L681.0,130.8 L682.8,143.3 L684.6,156.3 L686.4,169.8 L688.2,183.7 L690.0,197.9 L691.7,212.3 L693.5,226.9 L695.3,241.5 L697.1,256.2 L698.9,270.7 L700.7,285.1 L702.5,299.2 L704.3,313.0 L706.0,326.3 L707.8,339.2 L709.6,351.5 L711.4,363.2 L713.2,374.2 L715.0,384.4 L716.8,393.7 L718.6,402.2 L720.3,409.8 L722.1,416.3 L723.9,421.9 L725.7,426.4 L727.5,429.8 L729.3,432.1 L731.1,433.2 L732.9,433.3 L734.6,432.2 L736.4,430.1 L738.2,426.9 L740.0,422.7 L741.8,417.5 L743.6,411.3 L745.4,404.1 L747.1,396.0 L748.9,387.0 L750.7,377.2 L752.5,366.4 L754.3,354.9 L756.1,342.5 L757.9,329.3 L759.7,315.4 L761.4,300.8 L763.2,285.6 L765.0,270.2 L766.8,254.7 L768.6,239.5 L770.4,224.7 L772.2,210.6 L774.0,197.6 L775.7,185.9 L777.5,175.9 L779.3,167.9 L781.1,161.9 L782.9,157.8 L784.7,155.4 L786.5,154.4 L788.3,154.9 L790.0,157.8 L791.8,163.7 L793.6,171.7 L795.4,180.7 L797.2,190.2 L799.0,199.9 L800.8,209.5 L802.6,218.7 L804.3,227.1 L806.1,234.5 L807.9,240.5 L809.7,244.7 L811.5,247.7 L813.3,249.6 L815.1,249.8 L816.9,247.9 L818.6,244.0 L820.4,238.8 L822.2,232.9 L824.0,226.9 L825.8,221.5 L827.6,216.5 L829.4,211.9 L831.1,208.6 L832.9,207.6 L834.7,209.0 L836.5,211.9 L838.3,215.9 L840.1,220.7 L841.9,226.2 L843.7,232.3 L845.4,238.5 L847.2,244.7 L849.0,250.1 L850.8,254.2 L852.6,256.8 L854.4,257.7 L856.2,257.0 L858.0,254.6 L859.7,250.7 L861.5,245.9 L863.3,241.5 L865.1,238.7 L866.9,236.9 L868.7,235.6 L870.5,234.8 L872.3,235.1 L874.0,237.2 L875.8,241.0 L877.6,245.7 L879.4,250.5 L881.2,255.0 L883.0,258.9 L884.8,262.0 L886.6,263.9 L888.3,263.8 L890.1,262.1 L891.9,259.5 L893.7,256.9 L895.5,254.5 L897.3,252.7 L899.1,251.8 L900.9,252.0 L902.6,252.6 L904.4,253.3 L906.2,253.7 L908.0,254.0 L909.8,254.2 L911.6,254.3 L913.4,254.3 L915.1,254.3 L916.9,254.3 L918.7,254.3 L920.5,254.3 L922.3,254.2 L924.1,254.2 L925.9,254.1 L927.7,254.0 L929.4,253.8 L931.2,253.5 L933.0,253.2 L934.8,252.9 L936.6,252.6 L938.4,252.2 L940.2,251.9 L942.0,251.7 L943.7,251.4 L945.5,251.2 L947.3,251.0 L949.1,250.8 L950.9,250.6 L952.7,250.3 L954.5,249.9 L956.3,249.4 L958.0,248.8 L959.8,248.1 L961.6,247.2 L963.4,246.3 L965.2,245.3 L967.0,244.2 L968.8,242.9 L970.6,241.7 L972.3,240.3 L974.1,238.9 L975.9,237.5 L977.7,236.2 L979.5,234.8 L981.3,233.6 L983.1,232.4 L984.9,231.2 L986.6,230.2 L988.4,229.2 L990.2,228.3 L992.0,227.5 L993.8,226.8 L995.6,226.2 L997.4,225.7 L999.1,225.2 L1000.9,224.8 L1002.7,224.5 L1004.5,224.3 L1006.3,224.1 L1008.1,224.0 L1009.9,223.9 L1011.7,223.9 L1013.4,223.9 L1015.2,223.9 L1017.0,224.0 L1018.8,224.1 L1020.6,224.2 L1022.4,224.3 L1024.2,224.5 L1026.0,224.8 L1027.7,225.0 L1029.5,225.4 L1031.3,225.7 L1033.1,226.2 L1034.9,226.6 L1036.7,227.2 L1038.5,227.8 L1040.3,228.4 L1042.0,229.1 L1043.8,229.9 L1045.6,230.6 L1047.4,231.4 L1049.2,232.3 L1051.0,233.2 L1052.8,234.1 L1054.6,235.0 L1056.3,235.9 L1058.1,236.9 L1059.9,237.9 L1061.7,238.9 L1063.5,239.9 L1065.3,240.9 L1067.1,241.9 L1068.9,242.9 L1070.6,243.9 L1072.4,244.9 L1074.2,245.9 L1076.0,246.9 L1077.8,247.9 L1079.6,248.8 L1081.4,249.8 L1083.1,250.7 L1084.9,251.6 L1086.7,252.4 L1088.5,253.2 L1090.3,254.0 L1092.1,254.7 L1093.9,255.4 L1095.7,256.1 L1097.4,256.7 L1099.2,257.3 L1101.0,257.8 L1102.8,258.3 L1104.6,258.7 L1106.4,259.1 L1108.2,259.4 L1110.0,259.7 L1111.7,259.9 L1113.5,260.0 L1115.3,260.1 L1117.1,260.1 L1118.9,260.1 L1120.7,260.0 L1122.5,259.8 L1124.3,259.5 L1126.0,259.2 L1127.8,258.8 L1129.6,258.3 L1131.4,257.8 L1133.2,257.2 L1135.0,256.5 L1136.8,255.8 L1138.6,255.0 L1140.3,254.1 L1142.1,253.2 L1143.9,252.2 L1145.7,251.2 L1147.5,250.2 L1149.3,249.1 L1151.1,248.0 L1152.9,246.9 L1154.6,245.7 L1156.4,244.5 L1158.2,243.3 L1160.0,242.2 L1161.8,241.0 L1163.6,239.8 L1165.4,238.6 L1167.1,237.4 L1168.9,236.3 L1170.7,235.2 L1172.5,234.1 L1174.3,233.0 L1176.1,232.0 L1177.9,231.0 L1179.7,230.1 L1181.4,229.2 L1183.2,228.4 L1185.0,227.6 L1186.8,226.9 L1188.6,226.2 L1190.4,225.6 L1192.2,225.1 L1194.0,224.7 L1195.7,224.3 L1197.5,224.0 L1199.3,223.8 L1201.1,223.7 L1202.9,223.6 L1204.7,223.6 L1206.5,223.6 L1208.3,223.8 L1210.0,224.0 L1211.8,224.3 L1213.6,224.7 L1215.4,225.1 L1217.2,225.6 L1219.0,226.1 L1220.8,226.7 L1222.6,227.4 L1224.3,228.1 L1226.1,228.9 L1227.9,229.7 L1229.7,230.5 L1231.5,231.5 L1233.3,232.4 L1235.1,233.4 L1236.9,234.4 L1238.6,235.4 L1240.4,236.5 L1242.2,237.6 L1244.0,238.7 L1245.8,239.8 L1247.6,241.0 L1249.4,242.1 L1251.1,243.2 L1252.9,244.3 L1254.7,245.5 L1256.5,246.6 L1258.3,247.6 L1260.1,248.7 L1261.9,249.7 L1263.7,250.7 L1265.4,251.7 L1267.2,252.6 L1269.0,253.5 L1270.8,254.4 L1272.6,255.2 L1274.4,255.9 L1276.2,256.6 L1278.0,257.3 L1279.7,257.8 L1281.5,258.4 L1283.3,258.8 L1285.1,259.2 L1286.9,259.5 L1288.7,259.8 L1290.5,260.0 L1292.3,260.1 L1294.0,260.1 L1295.8,260.1 L1297.6,260.0 L1299.4,259.9 L1301.2,259.7 L1303.0,259.4 L1304.8,259.0 L1306.6,258.6 L1308.3,258.1 L1310.1,257.6 L1311.9,257.0 L1313.7,256.3 L1315.5,255.6 L1317.3,254.8 L1319.1,254.0 L1320.9,253.2 L1322.6,252.3 L1324.4,251.4 L1326.2,250.4 L1328.0,249.4 L1329.8,248.4 L1331.6,247.3 L1333.4,246.3 L1335.1,245.2 L1336.9,244.1 L1338.7,243.0 L1340.5,241.9 L1342.3,240.7 L1344.1,239.6 L1345.9,238.5 L1347.7,237.5 L1349.4,236.4 L1351.2,235.4 L1353.0,234.3 L1354.8,233.3 L1356.6,232.4 L1358.4,231.5 L1360.2,230.6 L1362.0,229.8 L1363.7,229.0 L1365.5,228.2 L1367.3,227.5 L1369.1,226.9 L1370.9,226.3 L1372.7,225.8 L1374.5,225.3 L1376.3,224.9 L1378.0,224.6 L1379.8,224.3 L1381.6,224.1 L1383.4,224.0 L1385.2,223.9 L1387.0,223.9 L1388.8,224.0 L1390.6,224.2 L1392.3,224.4 L1394.1,224.7 L1395.9,225.0 L1397.7,225.5 L1399.5,226.0 L1401.3,226.6 L1403.1,227.2 L1404.9,227.9 L1406.6,228.7 L1408.4,229.5 L1410.2,230.3 L1412.0,231.3 L1413.8,232.2 L1415.6,233.2 L1417.4,234.2 L1419.1,235.3 L1420.9,236.4 L1422.7,237.5 L1424.5,238.6 L1426.3,239.8 L1428.1,240.9 L1429.9,242.1 L1431.7,243.2 L1433.4,244.4 L1435.2,245.5 L1437.0,246.6 L1438.8,247.7 L1440.6,248.8 L1442.4,249.8 L1444.2,250.8 L1446.0,251.8 L1447.7,252.7 L1449.5,253.6 L1451.3,254.4 L1453.1,255.2 L1454.9,255.9 L1456.7,256.5 L1458.5,257.1 L1460.3,257.6 L1462.0,258.1 L1463.8,258.4 L1465.6,258.8 L1467.4,259.0 L1469.2,259.1 L1471.0,259.2 L1472.8,259.2 L1474.6,259.2 L1476.3,259.0 L1478.1,258.8 L1479.9,258.5 L1481.7,258.2 L1483.5,257.8 L1485.3,257.3 L1487.1,256.7 L1488.9,256.1 L1490.6,255.4 L1492.4,254.7 L1494.2,253.9 L1496.0,253.1 L1497.8,252.2 L1499.6,251.3 L1501.4,250.3 L1503.1,249.3 L1504.9,248.3 L1506.7,247.2 L1508.5,246.1 L1510.3,245.0 L1512.1,243.9 L1513.9,242.8 L1515.7,241.6 L1517.4,240.5 L1519.2,239.4 L1521.0,238.2 L1522.8,237.1 L1524.6,236.0 L1526.4,235.0 L1528.2,233.9 L1530.0,232.9 L1531.7,232.0 L1533.5,231.0 L1535.3,230.1 L1537.1,229.3 L1538.9,228.5 L1540.7,227.8 L1542.5,227.1 L1544.3,226.5 L1546.0,225.9 L1547.8,225.4 L1549.6,225.0 L1551.4,224.6 L1553.2,224.3 L1555.0,224.1 L1556.8,224.0 L1558.6,223.9 L1560.3,223.9 L1562.1,224.0 L1563.9,224.1 L1565.7,224.4 L1567.5,224.7 L1569.3,225.0 L1571.1,225.5 L1572.9,226.0 L1574.6,226.6 L1576.4,227.2 L1578.2,227.9 L1580.0,228.7" stroke="#0b800f" stroke-width="7.6" stroke-dasharray="7.6 7.9"/>
</g>
</g>
<g id="panel2">
<path class="fr" d="M296.12,989.7v-14.5M296.12,545v14.5M438.74,989.7v-14.5M438.74,545v14.5M581.36,989.7v-14.5M581.36,545v14.5M723.98,989.7v-14.5M723.98,545v14.5M866.60,989.7v-14.5M866.60,545v14.5M1009.22,989.7v-14.5M1009.22,545v14.5M1151.84,989.7v-14.5M1151.84,545v14.5M1294.46,989.7v-14.5M1294.46,545v14.5M1437.08,989.7v-14.5M1437.08,545v14.5M153.5,968.75h14.5M1579.7,968.75h-14.5M153.5,868.38h14.5M1579.7,868.38h-14.5M153.5,768.00h14.5M1579.7,768.00h-14.5M153.5,667.62h14.5M1579.7,667.62h-14.5M153.5,567.25h14.5M1579.7,567.25h-14.5"/>
<rect class="fr" x="153.5" y="545" width="1426.20" height="444.70"/>
<clipPath id="cp2"><rect x="123.5" y="515" width="1457.20" height="504.70"/></clipPath>
<g clip-path="url(#cp2)">
<path class="cv" d="M153.5,566.3 L162.5,563.4 L171.4,560.8 L180.4,558.3 L189.4,556.1 L198.3,554.1 L207.3,552.4 L216.3,550.8 L225.3,549.5 L234.2,548.4 L243.2,547.6 L252.2,546.9 L261.1,546.5 L270.1,546.4 L279.1,546.5 L288.0,546.8 L297.0,547.3 L306.0,548.1 L315.0,549.1 L323.9,550.3 L332.9,551.8 L341.9,553.5 L350.8,555.4 L359.8,557.5 L368.8,559.9 L377.7,562.5 L386.7,565.3 L395.7,568.3 L404.7,571.6 L413.6,575.0 L422.6,578.7 L431.6,582.5 L440.5,586.6 L449.5,590.8 L458.5,595.3 L467.4,599.9 L476.4,604.7 L485.4,609.6 L494.4,614.8 L503.3,620.1 L512.3,625.5 L521.3,631.1 L530.2,636.9 L539.2,642.8 L548.2,648.8 L557.1,655.0 L566.1,661.3 L575.1,667.7 L584.1,674.2 L593.0,680.8 L602.0,687.5 L611.0,694.3 L619.9,701.1 L628.9,708.1 L637.9,715.1 L646.8,722.1 L655.8,729.2 L664.8,736.4 L673.7,743.5 L682.7,750.7 L691.7,758.0 L700.7,765.2 L709.6,772.5 L718.6,779.7 L727.6,786.9 L736.5,794.1 L745.5,801.3 L754.5,808.4 L763.4,815.5 L772.4,822.6 L781.4,829.6 L790.4,836.5 L799.3,843.4 L808.3,850.1 L817.3,856.8 L826.2,863.4 L835.2,869.9 L844.2,876.3 L853.1,882.5 L862.1,888.7 L871.1,894.7 L880.1,900.6 L889.0,906.3 L898.0,911.9 L907.0,917.3 L915.9,922.6 L924.9,927.7 L933.9,932.6 L942.8,937.4 L951.8,942.0 L960.8,946.4 L969.8,950.6 L978.7,954.6 L987.7,958.4 L996.7,962.1 L1005.6,965.5 L1014.6,968.7 L1023.6,971.7 L1032.5,974.5 L1041.5,977.0 L1050.5,979.4 L1059.5,981.5 L1068.4,983.4 L1077.4,985.1 L1086.4,986.5 L1095.3,987.7 L1104.3,988.7 L1113.3,989.4 L1122.2,989.9 L1131.2,990.2 L1140.2,990.2 L1149.1,990.0 L1158.1,989.6 L1167.1,988.9 L1176.1,988.0 L1185.0,986.8 L1194.0,985.4 L1203.0,983.8 L1211.9,982.0 L1220.9,979.9 L1229.9,977.6 L1238.8,975.1 L1247.8,972.4 L1256.8,969.4 L1265.8,966.2 L1274.7,962.9 L1283.7,959.3 L1292.7,955.5 L1301.6,951.5 L1310.6,947.3 L1319.6,943.0 L1328.5,938.4 L1337.5,933.7 L1346.5,928.9 L1355.5,923.9 L1364.4,918.7 L1373.4,913.3 L1382.4,907.9 L1391.3,902.2 L1400.3,896.5 L1409.3,890.6 L1418.2,884.6 L1427.2,878.4 L1436.2,872.2 L1445.2,865.8 L1454.1,859.3 L1463.1,852.8 L1472.1,846.1 L1481.0,839.4 L1490.0,832.6 L1499.0,825.7 L1507.9,818.7 L1516.9,811.7 L1525.9,804.6 L1534.9,797.5 L1543.8,790.4 L1552.8,783.2 L1561.8,776.0 L1570.7,768.8 L1579.7,761.5" stroke="#e95d24" stroke-width="14.5"/>
<path class="cv" d="M153.5,566.3 L162.5,564.0 L171.4,561.9 L180.4,560.0 L189.4,558.3 L198.3,556.8 L207.3,555.6 L216.3,554.6 L225.3,553.8 L234.2,553.2 L243.2,552.9 L252.2,552.8 L261.1,552.9 L270.1,553.2 L279.1,553.8 L288.0,554.6 L297.0,555.6 L306.0,556.8 L315.0,558.3 L323.9,560.0 L332.9,561.9 L341.9,564.0 L350.8,566.3 L359.8,568.9 L368.8,571.6 L377.7,574.6 L386.7,577.8 L395.7,581.2 L404.7,584.7 L413.6,588.5 L422.6,592.5 L431.6,596.6 L440.5,600.9 L449.5,605.4 L458.5,610.1 L467.4,615.0 L476.4,620.0 L485.4,625.1 L494.4,630.5 L503.3,635.9 L512.3,641.5 L521.3,647.3 L530.2,653.2 L539.2,659.2 L548.2,665.3 L557.1,671.5 L566.1,677.8 L575.1,684.2 L584.1,690.7 L593.0,697.3 L602.0,704.0 L611.0,710.7 L619.9,717.5 L628.9,724.4 L637.9,731.3 L646.8,738.2 L655.8,745.2 L664.8,752.2 L673.7,759.2 L682.7,766.3 L691.7,773.3 L700.7,780.3 L709.6,787.3 L718.6,794.3 L727.6,801.3 L736.5,808.2 L745.5,815.1 L754.5,821.9 L763.4,828.7 L772.4,835.4 L781.4,842.1 L790.4,848.6 L799.3,855.1 L808.3,861.5 L817.3,867.8 L826.2,873.9 L835.2,880.0 L844.2,886.0 L853.1,891.8 L862.1,897.5 L871.1,903.0 L880.1,908.4 L889.0,913.7 L898.0,918.8 L907.0,923.7 L915.9,928.5 L924.9,933.1 L933.9,937.5 L942.8,941.8 L951.8,945.8 L960.8,949.7 L969.8,953.4 L978.7,956.9 L987.7,960.2 L996.7,963.2 L1005.6,966.1 L1014.6,968.8 L1023.6,971.2 L1032.5,973.5 L1041.5,975.5 L1050.5,977.3 L1059.5,978.8 L1068.4,980.2 L1077.4,981.3 L1086.4,982.2 L1095.3,982.8 L1104.3,983.3 L1113.3,983.5 L1122.2,983.4 L1131.2,983.2 L1140.2,982.7 L1149.1,982.0 L1158.1,981.1 L1167.1,979.9 L1176.1,978.5 L1185.0,976.9 L1194.0,975.0 L1203.0,972.9 L1211.9,970.7 L1220.9,968.2 L1229.9,965.4 L1238.8,962.5 L1247.8,959.4 L1256.8,956.0 L1265.8,952.5 L1274.7,948.7 L1283.7,944.8 L1292.7,940.7 L1301.6,936.4 L1310.6,931.9 L1319.6,927.3 L1328.5,922.4 L1337.5,917.5 L1346.5,912.3 L1355.5,907.0 L1364.4,901.6 L1373.4,896.0 L1382.4,890.3 L1391.3,884.5 L1400.3,878.6 L1409.3,872.5 L1418.2,866.3 L1427.2,860.0 L1436.2,853.6 L1445.2,847.2 L1454.1,840.6 L1463.1,834.0 L1472.1,827.3 L1481.0,820.5 L1490.0,813.7 L1499.0,806.8 L1507.9,799.9 L1516.9,792.9 L1525.9,785.9 L1534.9,778.9 L1543.8,771.9 L1552.8,764.9 L1561.8,757.9 L1570.7,750.9 L1579.7,743.9" stroke="#2a0afa" stroke-width="10"/>
<path class="cv" d="M153.5,566.3 L162.5,563.3 L171.4,560.5 L180.4,558.0 L189.4,555.6 L198.3,553.5 L207.3,551.6 L216.3,549.9 L225.3,548.5 L234.2,547.3 L243.2,546.3 L252.2,545.6 L261.1,545.1 L270.1,544.8 L279.1,544.7 L288.0,544.9 L297.0,545.4 L306.0,546.0 L315.0,546.9 L323.9,548.1 L332.9,549.4 L341.9,551.0 L350.8,552.9 L359.8,554.9 L368.8,557.2 L377.7,559.7 L386.7,562.4 L395.7,565.4 L404.7,568.5 L413.6,571.9 L422.6,575.5 L431.6,579.3 L440.5,583.3 L449.5,587.5 L458.5,591.8 L467.4,596.4 L476.4,601.2 L485.4,606.1 L494.4,611.2 L503.3,616.4 L512.3,621.9 L521.3,627.5 L530.2,633.2 L539.2,639.1 L548.2,645.1 L557.1,651.2 L566.1,657.5 L575.1,663.9 L584.1,670.4 L593.0,677.0 L602.0,683.7 L611.0,690.5 L619.9,697.4 L628.9,704.3 L637.9,711.4 L646.8,718.4 L655.8,725.6 L664.8,732.8 L673.7,740.0 L682.7,747.2 L691.7,754.5 L700.7,761.8 L709.6,769.1 L718.6,776.4 L727.6,783.7 L736.5,790.9 L745.5,798.2 L754.5,805.4 L763.4,812.6 L772.4,819.7 L781.4,826.8 L790.4,833.8 L799.3,840.7 L808.3,847.6 L817.3,854.3 L826.2,861.0 L835.2,867.6 L844.2,874.1 L853.1,880.4 L862.1,886.7 L871.1,892.8 L880.1,898.8 L889.0,904.6 L898.0,910.3 L907.0,915.9 L915.9,921.2 L924.9,926.5 L933.9,931.5 L942.8,936.4 L951.8,941.1 L960.8,945.6 L969.8,950.0 L978.7,954.1 L987.7,958.0 L996.7,961.8 L1005.6,965.3 L1014.6,968.7 L1023.6,971.8 L1032.5,974.7 L1041.5,977.4 L1050.5,979.8 L1059.5,982.1 L1068.4,984.1 L1077.4,985.9 L1086.4,987.4 L1095.3,988.7 L1104.3,989.8 L1113.3,990.7 L1122.2,991.3 L1131.2,991.7 L1140.2,991.8 L1149.1,991.7 L1158.1,991.4 L1167.1,990.8 L1176.1,990.0 L1185.0,988.9 L1194.0,987.6 L1203.0,986.1 L1211.9,984.3 L1220.9,982.4 L1229.9,980.1 L1238.8,977.7 L1247.8,975.0 L1256.8,972.1 L1265.8,969.0 L1274.7,965.7 L1283.7,962.2 L1292.7,958.4 L1301.6,954.5 L1310.6,950.4 L1319.6,946.1 L1328.5,941.6 L1337.5,936.9 L1346.5,932.1 L1355.5,927.0 L1364.4,921.9 L1373.4,916.5 L1382.4,911.0 L1391.3,905.4 L1400.3,899.6 L1409.3,893.7 L1418.2,887.7 L1427.2,881.5 L1436.2,875.2 L1445.2,868.8 L1454.1,862.3 L1463.1,855.7 L1472.1,849.0 L1481.0,842.2 L1490.0,835.4 L1499.0,828.4 L1507.9,821.4 L1516.9,814.3 L1525.9,807.2 L1534.9,800.0 L1543.8,792.8 L1552.8,785.6 L1561.8,778.3 L1570.7,771.0 L1579.7,763.8" stroke="#0b800f" stroke-width="7.5"/>
<path class="cv" d="M153.5,566.3 L162.5,563.7 L171.4,561.2 L180.4,559.0 L189.4,557.0 L198.3,555.3 L207.3,553.7 L216.3,552.4 L225.3,551.3 L234.2,550.5 L243.2,549.8 L252.2,549.4 L261.1,549.2 L270.1,549.2 L279.1,549.5 L288.0,550.0 L297.0,550.8 L306.0,551.7 L315.0,552.9 L323.9,554.3 L332.9,556.0 L341.9,557.8 L350.8,559.9 L359.8,562.2 L368.8,564.8 L377.7,567.5 L386.7,570.4 L395.7,573.6 L404.7,577.0 L413.6,580.6 L422.6,584.3 L431.6,588.3 L440.5,592.4 L449.5,596.8 L458.5,601.3 L467.4,606.0 L476.4,610.9 L485.4,615.9 L494.4,621.1 L503.3,626.5 L512.3,632.0 L521.3,637.7 L530.2,643.5 L539.2,649.4 L548.2,655.4 L557.1,661.6 L566.1,667.9 L575.1,674.3 L584.1,680.8 L593.0,687.4 L602.0,694.1 L611.0,700.8 L619.9,707.7 L628.9,714.5 L637.9,721.5 L646.8,728.5 L655.8,735.5 L664.8,742.6 L673.7,749.7 L682.7,756.9 L691.7,764.0 L700.7,771.1 L709.6,778.3 L718.6,785.4 L727.6,792.5 L736.5,799.6 L745.5,806.7 L754.5,813.7 L763.4,820.7 L772.4,827.6 L781.4,834.4 L790.4,841.2 L799.3,847.9 L808.3,854.5 L817.3,861.0 L826.2,867.5 L835.2,873.8 L844.2,880.0 L853.1,886.1 L862.1,892.0 L871.1,897.9 L880.1,903.6 L889.0,909.1 L898.0,914.5 L907.0,919.7 L915.9,924.8 L924.9,929.7 L933.9,934.5 L942.8,939.0 L951.8,943.4 L960.8,947.6 L969.8,951.6 L978.7,955.4 L987.7,959.1 L996.7,962.5 L1005.6,965.7 L1014.6,968.7 L1023.6,971.5 L1032.5,974.0 L1041.5,976.4 L1050.5,978.5 L1059.5,980.4 L1068.4,982.1 L1077.4,983.5 L1086.4,984.8 L1095.3,985.8 L1104.3,986.5 L1113.3,987.1 L1122.2,987.3 L1131.2,987.4 L1140.2,987.2 L1149.1,986.8 L1158.1,986.2 L1167.1,985.3 L1176.1,984.2 L1185.0,982.9 L1194.0,981.3 L1203.0,979.5 L1211.9,977.5 L1220.9,975.3 L1229.9,972.8 L1238.8,970.1 L1247.8,967.2 L1256.8,964.1 L1265.8,960.8 L1274.7,957.3 L1283.7,953.6 L1292.7,949.6 L1301.6,945.5 L1310.6,941.2 L1319.6,936.7 L1328.5,932.1 L1337.5,927.2 L1346.5,922.2 L1355.5,917.1 L1364.4,911.8 L1373.4,906.3 L1382.4,900.7 L1391.3,895.0 L1400.3,889.1 L1409.3,883.1 L1418.2,877.0 L1427.2,870.7 L1436.2,864.4 L1445.2,857.9 L1454.1,851.4 L1463.1,844.7 L1472.1,838.0 L1481.0,831.2 L1490.0,824.4 L1499.0,817.4 L1507.9,810.5 L1516.9,803.4 L1525.9,796.4 L1534.9,789.3 L1543.8,782.2 L1552.8,775.0 L1561.8,767.9 L1570.7,760.7 L1579.7,753.6" stroke="#fc1a22" stroke-width="7.6" stroke-dasharray="7.6 7.9"/>
<path class="cv" d="M153.5,566.3 L162.5,564.7 L171.4,563.3 L180.4,562.2 L189.4,561.2 L198.3,560.5 L207.3,560.0 L216.3,559.7 L225.3,559.6 L234.2,559.7 L243.2,560.1 L252.2,560.6 L261.1,561.4 L270.1,562.4 L279.1,563.6 L288.0,565.1 L297.0,566.7 L306.0,568.6 L315.0,570.6 L323.9,572.9 L332.9,575.4 L341.9,578.1 L350.8,581.0 L359.8,584.1 L368.8,587.3 L377.7,590.8 L386.7,594.5 L395.7,598.3 L404.7,602.3 L413.6,606.5 L422.6,610.9 L431.6,615.4 L440.5,620.1 L449.5,625.0 L458.5,630.0 L467.4,635.1 L476.4,640.4 L485.4,645.9 L494.4,651.4 L503.3,657.1 L512.3,662.9 L521.3,668.8 L530.2,674.9 L539.2,681.0 L548.2,687.2 L557.1,693.5 L566.1,699.9 L575.1,706.3 L584.1,712.8 L593.0,719.4 L602.0,726.0 L611.0,732.7 L619.9,739.4 L628.9,746.2 L637.9,753.0 L646.8,759.7 L655.8,766.5 L664.8,773.3 L673.7,780.1 L682.7,786.9 L691.7,793.7 L700.7,800.4 L709.6,807.1 L718.6,813.8 L727.6,820.4 L736.5,826.9 L745.5,833.4 L754.5,839.9 L763.4,846.2 L772.4,852.5 L781.4,858.6 L790.4,864.7 L799.3,870.7 L808.3,876.6 L817.3,882.3 L826.2,888.0 L835.2,893.5 L844.2,898.8 L853.1,904.1 L862.1,909.2 L871.1,914.1 L880.1,918.9 L889.0,923.5 L898.0,928.0 L907.0,932.3 L915.9,936.4 L924.9,940.3 L933.9,944.1 L942.8,947.6 L951.8,951.0 L960.8,954.2 L969.8,957.1 L978.7,959.9 L987.7,962.5 L996.7,964.8 L1005.6,967.0 L1014.6,968.9 L1023.6,970.7 L1032.5,972.2 L1041.5,973.5 L1050.5,974.5 L1059.5,975.4 L1068.4,976.0 L1077.4,976.4 L1086.4,976.6 L1095.3,976.6 L1104.3,976.3 L1113.3,975.9 L1122.2,975.2 L1131.2,974.2 L1140.2,973.1 L1149.1,971.7 L1158.1,970.2 L1167.1,968.4 L1176.1,966.3 L1185.0,964.1 L1194.0,961.7 L1203.0,959.0 L1211.9,956.2 L1220.9,953.2 L1229.9,949.9 L1238.8,946.5 L1247.8,942.8 L1256.8,939.0 L1265.8,935.0 L1274.7,930.8 L1283.7,926.5 L1292.7,921.9 L1301.6,917.3 L1310.6,912.4 L1319.6,907.4 L1328.5,902.2 L1337.5,896.8 L1346.5,891.3 L1355.5,885.7 L1364.4,879.9 L1373.4,874.0 L1382.4,868.0 L1391.3,861.9 L1400.3,855.7 L1409.3,849.3 L1418.2,842.9 L1427.2,836.4 L1436.2,829.9 L1445.2,823.2 L1454.1,816.5 L1463.1,809.8 L1472.1,803.0 L1481.0,796.1 L1490.0,789.3 L1499.0,782.4 L1507.9,775.5 L1516.9,768.6 L1525.9,761.7 L1534.9,754.9 L1543.8,748.0 L1552.8,741.2 L1561.8,734.4 L1570.7,727.6 L1579.7,720.9" stroke="#2a0afa" stroke-width="7.6" stroke-dasharray="7.6 7.9"/>
<path class="cv" d="M153.5,566.3 L162.5,567.1 L171.4,568.1 L180.4,569.3 L189.4,570.7 L198.3,572.4 L207.3,574.2 L216.3,576.2 L225.3,578.5 L234.2,580.9 L243.2,583.5 L252.2,586.4 L261.1,589.4 L270.1,592.6 L279.1,596.0 L288.0,599.6 L297.0,603.3 L306.0,607.2 L315.0,611.3 L323.9,615.6 L332.9,620.1 L341.9,624.6 L350.8,629.4 L359.8,634.3 L368.8,639.3 L377.7,644.5 L386.7,649.8 L395.7,655.2 L404.7,660.8 L413.6,666.4 L422.6,672.2 L431.6,678.1 L440.5,684.0 L449.5,690.1 L458.5,696.2 L467.4,702.4 L476.4,708.7 L485.4,715.1 L494.4,721.5 L503.3,728.0 L512.3,734.5 L521.3,741.0 L530.2,747.6 L539.2,754.2 L548.2,760.8 L557.1,767.4 L566.1,774.0 L575.1,780.6 L584.1,787.2 L593.0,793.8 L602.0,800.3 L611.0,806.8 L619.9,813.3 L628.9,819.8 L637.9,826.1 L646.8,832.4 L655.8,838.7 L664.8,844.8 L673.7,850.9 L682.7,856.9 L691.7,862.8 L700.7,868.6 L709.6,874.3 L718.6,879.9 L727.6,885.4 L736.5,890.7 L745.5,895.9 L754.5,901.0 L763.4,905.9 L772.4,910.7 L781.4,915.3 L790.4,919.8 L799.3,924.1 L808.3,928.3 L817.3,932.2 L826.2,936.0 L835.2,939.7 L844.2,943.1 L853.1,946.3 L862.1,949.4 L871.1,952.2 L880.1,954.9 L889.0,957.4 L898.0,959.6 L907.0,961.7 L915.9,963.5 L924.9,965.2 L933.9,966.6 L942.8,967.9 L951.8,969.0 L960.8,969.9 L969.8,970.5 L978.7,971.0 L987.7,971.3 L996.7,971.4 L1005.6,971.3 L1014.6,971.0 L1023.6,970.5 L1032.5,969.8 L1041.5,968.9 L1050.5,967.7 L1059.5,966.4 L1068.4,964.8 L1077.4,963.0 L1086.4,961.0 L1095.3,958.8 L1104.3,956.4 L1113.3,953.8 L1122.2,951.0 L1131.2,947.9 L1140.2,944.7 L1149.1,941.2 L1158.1,937.5 L1167.1,933.6 L1176.1,929.6 L1185.0,925.3 L1194.0,920.8 L1203.0,916.2 L1211.9,911.3 L1220.9,906.3 L1229.9,901.1 L1238.8,895.8 L1247.8,890.3 L1256.8,884.6 L1265.8,878.9 L1274.7,873.0 L1283.7,866.9 L1292.7,860.8 L1301.6,854.5 L1310.6,848.2 L1319.6,841.8 L1328.5,835.2 L1337.5,828.6 L1346.5,822.0 L1355.5,815.3 L1364.4,808.5 L1373.4,801.7 L1382.4,794.9 L1391.3,788.0 L1400.3,781.1 L1409.3,774.1 L1418.2,767.1 L1427.2,760.0 L1436.2,753.0 L1445.2,745.9 L1454.1,738.9 L1463.1,731.9 L1472.1,724.9 L1481.0,717.9 L1490.0,711.1 L1499.0,704.3 L1507.9,697.6 L1516.9,691.0 L1525.9,684.4 L1534.9,678.1 L1543.8,671.8 L1552.8,665.7 L1561.8,659.8 L1570.7,654.0 L1579.7,648.4" stroke="#0b800f" stroke-width="7.6" stroke-dasharray="7.6 7.9"/>
</g>
</g>
<g id="panel3">
<path class="fr" d="M224.55,1498.3v-14.5M224.55,1050.2v14.5M365.50,1498.3v-14.5M365.50,1050.2v14.5M506.45,1498.3v-14.5M506.45,1050.2v14.5M647.40,1498.3v-14.5M647.40,1050.2v14.5M788.35,1498.3v-14.5M788.35,1050.2v14.5M929.30,1498.3v-14.5M929.30,1050.2v14.5M1070.25,1498.3v-14.5M1070.25,1050.2v14.5M1211.20,1498.3v-14.5M1211.20,1050.2v14.5M1352.15,1498.3v-14.5M1352.15,1050.2v14.5M1493.10,1498.3v-14.5M1493.10,1050.2v14.5M150.5,1435.60h14.5M1578.3,1435.60h-14.5M150.5,1346.30h14.5M1578.3,1346.30h-14.5M150.5,1257.00h14.5M1578.3,1257.00h-14.5M150.5,1167.70h14.5M1578.3,1167.70h-14.5M150.5,1078.40h14.5M1578.3,1078.40h-14.5"/>
<rect class="fr" x="150.5" y="1050.2" width="1427.80" height="448.10"/>
<clipPath id="cp3"><rect x="149.5" y="1049.2" width="1429.80" height="450.10"/></clipPath>
<g clip-path="url(#cp3)">
<path class="cv" d="M148.4,1711.2 L153.2,1706.1 L158.0,1700.8 L162.8,1695.4 L167.6,1689.9 L172.4,1684.1 L177.2,1678.2 L182.0,1672.2 L186.8,1666.0 L191.5,1659.7 L196.3,1653.2 L201.1,1646.5 L205.9,1639.7 L210.7,1632.8 L215.5,1625.7 L220.3,1618.4 L225.1,1611.1 L229.9,1603.5 L234.6,1595.8 L239.4,1588.0 L244.2,1580.1 L249.0,1572.0 L253.8,1563.7 L258.6,1555.3 L263.4,1546.8 L268.2,1538.1 L273.0,1529.3 L277.8,1520.4 L282.5,1511.3 L287.3,1502.1 L292.1,1492.8 L296.9,1483.3 L301.7,1473.7 L306.5,1464.0 L311.3,1454.2 L316.1,1444.3 L320.9,1434.3 L325.6,1424.2 L330.4,1414.1 L335.2,1403.8 L340.0,1393.6 L344.8,1383.3 L349.6,1372.9 L354.4,1362.5 L359.2,1352.1 L364.0,1341.7 L368.8,1331.2 L373.5,1320.9 L378.3,1310.6 L383.1,1300.4 L387.9,1290.3 L392.7,1280.5 L397.5,1270.9 L402.3,1261.5 L407.1,1252.4 L411.9,1243.6 L416.6,1235.1 L421.4,1226.7 L426.2,1218.7 L431.0,1210.8 L435.8,1203.1 L440.6,1195.7 L445.4,1188.4 L450.2,1181.2 L455.0,1174.2 L459.8,1167.4 L464.5,1160.8 L469.3,1154.3 L474.1,1148.0 L478.9,1141.9 L483.7,1135.9 L488.5,1130.2 L493.3,1124.7 L498.1,1119.4 L502.9,1114.4 L507.6,1109.5 L512.4,1105.0 L517.2,1100.7 L522.0,1096.6 L526.8,1092.9 L531.6,1089.4 L536.4,1086.3 L541.2,1083.5 L546.0,1081.0 L550.8,1078.8 L555.5,1077.0 L560.3,1075.6 L565.1,1074.5 L569.9,1073.8 L574.7,1073.5 L579.5,1073.5 L584.3,1073.9 L589.1,1074.7 L593.9,1075.9 L598.6,1077.4 L603.4,1079.4 L608.2,1081.6 L613.0,1084.2 L617.8,1087.1 L622.6,1090.3 L627.4,1093.8 L632.2,1097.4 L637.0,1101.3 L641.8,1105.4 L646.5,1109.6 L651.3,1113.9 L656.1,1118.4 L660.9,1122.9 L665.7,1127.6 L670.5,1132.4 L675.3,1137.3 L680.1,1142.4 L684.9,1147.7 L689.6,1153.2 L694.4,1158.8 L699.2,1164.6 L704.0,1170.7 L708.8,1176.9 L713.6,1183.2 L718.4,1189.6 L723.2,1196.1 L728.0,1202.4 L732.8,1208.6 L737.5,1214.7 L742.3,1220.6 L747.1,1226.1 L751.9,1231.3 L756.7,1236.2 L761.5,1240.6 L766.3,1244.8 L771.1,1248.6 L775.9,1252.2 L780.6,1255.4 L785.4,1258.5 L790.2,1261.3 L795.0,1263.9 L799.8,1266.4 L804.6,1268.7 L809.4,1270.8 L814.2,1272.8 L819.0,1274.6 L823.8,1276.2 L828.5,1277.6 L833.3,1278.7 L838.1,1279.6 L842.9,1280.3 L847.7,1280.7 L852.5,1280.8 L857.3,1280.6 L862.1,1280.2 L866.9,1279.4 L871.6,1278.4 L876.4,1277.2 L881.2,1275.7 L886.0,1274.0 L890.8,1272.0 L895.6,1269.9 L900.4,1267.5 L905.2,1264.9 L910.0,1262.2 L914.8,1259.3 L919.5,1256.3 L924.3,1253.2 L929.1,1250.1 L933.9,1247.0 L938.7,1243.9 L943.5,1240.8 L948.3,1237.9 L953.1,1235.0 L957.9,1232.3 L962.6,1229.7 L967.4,1227.2 L972.2,1224.9 L977.0,1222.7 L981.8,1220.7 L986.6,1218.8 L991.4,1217.1 L996.2,1215.6 L1001.0,1214.2 L1005.8,1213.1 L1010.5,1212.1 L1015.3,1211.5 L1020.1,1211.2 L1024.9,1211.3 L1029.7,1211.8 L1034.5,1212.6 L1039.3,1213.8 L1044.1,1215.1 L1048.9,1216.8 L1053.6,1218.6 L1058.4,1220.6 L1063.2,1222.7 L1068.0,1225.0 L1072.8,1227.4 L1077.6,1229.9 L1082.4,1232.5 L1087.2,1235.2 L1092.0,1237.9 L1096.8,1240.7 L1101.5,1243.4 L1106.3,1246.2 L1111.1,1249.0 L1115.9,1251.8 L1120.7,1254.5 L1125.5,1257.1 L1130.3,1259.7 L1135.1,1262.2 L1139.9,1264.7 L1144.6,1267.0 L1149.4,1269.2 L1154.2,1271.3 L1159.0,1273.3 L1163.8,1275.1 L1168.6,1276.8 L1173.4,1278.4 L1178.2,1279.8 L1183.0,1281.0 L1187.8,1282.0 L1192.5,1282.9 L1197.3,1283.5 L1202.1,1284.0 L1206.9,1284.2 L1211.7,1284.3 L1216.5,1284.1 L1221.3,1283.8 L1226.1,1283.3 L1230.9,1282.7 L1235.6,1282.0 L1240.4,1281.1 L1245.2,1280.2 L1250.0,1279.2 L1254.8,1278.2 L1259.6,1277.2 L1264.4,1276.2 L1269.2,1275.2 L1274.0,1274.3 L1278.8,1273.5 L1283.5,1272.9 L1288.3,1272.4 L1293.1,1272.2 L1297.9,1272.2 L1302.7,1272.5 L1307.5,1273.1 L1312.3,1274.0 L1317.1,1275.1 L1321.9,1276.4 L1326.6,1277.9 L1331.4,1279.6 L1336.2,1281.5 L1341.0,1283.5 L1345.8,1285.6 L1350.6,1287.8 L1355.4,1290.2 L1360.2,1292.6 L1365.0,1295.0 L1369.8,1297.6 L1374.5,1300.1 L1379.3,1302.7 L1384.1,1305.3 L1388.9,1307.9 L1393.7,1310.5 L1398.5,1313.0 L1403.3,1315.5 L1408.1,1317.9 L1412.9,1320.3 L1417.6,1322.5 L1422.4,1324.7 L1427.2,1326.7 L1432.0,1328.6 L1436.8,1330.4 L1441.6,1332.0 L1446.4,1333.5 L1451.2,1334.8 L1456.0,1335.9 L1460.8,1336.8 L1465.5,1337.5 L1470.3,1338.0 L1475.1,1338.3 L1479.9,1338.5 L1484.7,1338.5 L1489.5,1338.3 L1494.3,1338.1 L1499.1,1337.8 L1503.9,1337.4 L1508.6,1337.1 L1513.4,1336.7 L1518.2,1336.4 L1523.0,1336.1 L1527.8,1336.0 L1532.6,1336.0 L1537.4,1336.2 L1542.2,1336.6 L1547.0,1337.1 L1551.8,1337.7 L1556.5,1338.4 L1561.3,1339.2 L1566.1,1340.0 L1570.9,1340.9 L1575.7,1341.9 L1580.5,1342.9" stroke="#e95d24" stroke-width="14.5"/>
<path class="cv" d="M148.4,1681.0 L153.2,1675.5 L158.0,1669.9 L162.8,1664.1 L167.6,1658.2 L172.4,1652.2 L177.2,1646.1 L182.0,1639.8 L186.8,1633.4 L191.5,1626.8 L196.3,1620.2 L201.1,1613.4 L205.9,1606.5 L210.7,1599.5 L215.5,1592.4 L220.3,1585.2 L225.1,1577.9 L229.9,1570.4 L234.6,1562.8 L239.4,1555.2 L244.2,1547.4 L249.0,1539.5 L253.8,1531.6 L258.6,1523.5 L263.4,1515.3 L268.2,1507.1 L273.0,1498.7 L277.8,1490.3 L282.5,1481.7 L287.3,1473.1 L292.1,1464.3 L296.9,1455.5 L301.7,1446.5 L306.5,1437.3 L311.3,1428.1 L316.1,1418.7 L320.9,1409.1 L325.6,1399.4 L330.4,1389.6 L335.2,1379.6 L340.0,1369.4 L344.8,1359.0 L349.6,1348.4 L354.4,1337.7 L359.2,1326.9 L364.0,1316.0 L368.8,1305.1 L373.5,1294.4 L378.3,1283.9 L383.1,1273.7 L387.9,1263.9 L392.7,1254.6 L397.5,1245.8 L402.3,1237.4 L407.1,1229.5 L411.9,1222.0 L416.6,1214.8 L421.4,1207.8 L426.2,1201.0 L431.0,1194.5 L435.8,1188.0 L440.6,1181.6 L445.4,1175.2 L450.2,1168.8 L455.0,1162.4 L459.8,1156.1 L464.5,1150.0 L469.3,1143.9 L474.1,1138.1 L478.9,1132.4 L483.7,1126.9 L488.5,1121.7 L493.3,1116.8 L498.1,1112.1 L502.9,1107.8 L507.6,1103.7 L512.4,1100.0 L517.2,1096.5 L522.0,1093.3 L526.8,1090.5 L531.6,1087.9 L536.4,1085.6 L541.2,1083.6 L546.0,1081.9 L550.8,1080.5 L555.5,1079.3 L560.3,1078.5 L565.1,1078.0 L569.9,1077.9 L574.7,1078.1 L579.5,1078.6 L584.3,1079.5 L589.1,1080.7 L593.9,1082.2 L598.6,1084.2 L603.4,1086.4 L608.2,1089.0 L613.0,1091.9 L617.8,1095.0 L622.6,1098.4 L627.4,1102.0 L632.2,1105.8 L637.0,1109.8 L641.8,1114.0 L646.5,1118.3 L651.3,1122.6 L656.1,1127.1 L660.9,1131.7 L665.7,1136.5 L670.5,1141.4 L675.3,1146.4 L680.1,1151.6 L684.9,1157.0 L689.6,1162.7 L694.4,1168.5 L699.2,1174.5 L704.0,1180.8 L708.8,1187.2 L713.6,1193.7 L718.4,1200.2 L723.2,1206.6 L728.0,1213.0 L732.8,1219.2 L737.5,1225.2 L742.3,1230.9 L747.1,1236.2 L751.9,1241.2 L756.7,1245.8 L761.5,1250.0 L766.3,1253.9 L771.1,1257.6 L775.9,1260.9 L780.6,1264.0 L785.4,1266.9 L790.2,1269.6 L795.0,1272.2 L799.8,1274.6 L804.6,1276.8 L809.4,1278.9 L814.2,1280.9 L819.0,1282.6 L823.8,1284.2 L828.5,1285.5 L833.3,1286.7 L838.1,1287.5 L842.9,1288.1 L847.7,1288.5 L852.5,1288.5 L857.3,1288.3 L862.1,1287.8 L866.9,1287.0 L871.6,1286.0 L876.4,1284.7 L881.2,1283.3 L886.0,1281.5 L890.8,1279.6 L895.6,1277.5 L900.4,1275.2 L905.2,1272.7 L910.0,1270.0 L914.8,1267.3 L919.5,1264.4 L924.3,1261.5 L929.1,1258.5 L933.9,1255.6 L938.7,1252.6 L943.5,1249.7 L948.3,1246.9 L953.1,1244.2 L957.9,1241.5 L962.6,1239.0 L967.4,1236.7 L972.2,1234.4 L977.0,1232.3 L981.8,1230.4 L986.6,1228.7 L991.4,1227.1 L996.2,1225.7 L1001.0,1224.4 L1005.8,1223.4 L1010.5,1222.7 L1015.3,1222.3 L1020.1,1222.2 L1024.9,1222.5 L1029.7,1223.2 L1034.5,1224.2 L1039.3,1225.5 L1044.1,1227.1 L1048.9,1228.8 L1053.6,1230.7 L1058.4,1232.7 L1063.2,1234.8 L1068.0,1237.1 L1072.8,1239.5 L1077.6,1241.9 L1082.4,1244.5 L1087.2,1247.1 L1092.0,1249.8 L1096.8,1252.5 L1101.5,1255.2 L1106.3,1257.9 L1111.1,1260.7 L1115.9,1263.4 L1120.7,1266.1 L1125.5,1268.8 L1130.3,1271.4 L1135.1,1274.0 L1139.9,1276.5 L1144.6,1278.9 L1149.4,1281.2 L1154.2,1283.4 L1159.0,1285.4 L1163.8,1287.4 L1168.6,1289.1 L1173.4,1290.7 L1178.2,1292.2 L1183.0,1293.4 L1187.8,1294.4 L1192.5,1295.2 L1197.3,1295.8 L1202.1,1296.2 L1206.9,1296.3 L1211.7,1296.2 L1216.5,1295.9 L1221.3,1295.4 L1226.1,1294.8 L1230.9,1294.0 L1235.6,1293.1 L1240.4,1292.1 L1245.2,1291.0 L1250.0,1289.9 L1254.8,1288.7 L1259.6,1287.6 L1264.4,1286.5 L1269.2,1285.4 L1274.0,1284.5 L1278.8,1283.7 L1283.5,1283.0 L1288.3,1282.6 L1293.1,1282.4 L1297.9,1282.4 L1302.7,1282.8 L1307.5,1283.5 L1312.3,1284.4 L1317.1,1285.6 L1321.9,1287.0 L1326.6,1288.6 L1331.4,1290.4 L1336.2,1292.3 L1341.0,1294.4 L1345.8,1296.6 L1350.6,1298.9 L1355.4,1301.3 L1360.2,1303.8 L1365.0,1306.3 L1369.8,1308.9 L1374.5,1311.6 L1379.3,1314.2 L1384.1,1316.9 L1388.9,1319.6 L1393.7,1322.2 L1398.5,1324.8 L1403.3,1327.4 L1408.1,1329.9 L1412.9,1332.3 L1417.6,1334.6 L1422.4,1336.8 L1427.2,1338.9 L1432.0,1340.9 L1436.8,1342.8 L1441.6,1344.5 L1446.4,1346.0 L1451.2,1347.4 L1456.0,1348.5 L1460.8,1349.5 L1465.5,1350.2 L1470.3,1350.8 L1475.1,1351.1 L1479.9,1351.3 L1484.7,1351.3 L1489.5,1351.2 L1494.3,1351.0 L1499.1,1350.7 L1503.9,1350.3 L1508.6,1349.8 L1513.4,1349.4 L1518.2,1349.0 L1523.0,1348.7 L1527.8,1348.6 L1532.6,1348.5 L1537.4,1348.7 L1542.2,1349.0 L1547.0,1349.5 L1551.8,1350.1 L1556.5,1350.7 L1561.3,1351.4 L1566.1,1352.2 L1570.9,1353.0 L1575.7,1353.9 L1580.5,1354.8" stroke="#2a0afa" stroke-width="10"/>
<path class="cv" d="M148.4,1715.0 L153.2,1710.0 L158.0,1704.8 L162.8,1699.4 L167.6,1693.9 L172.4,1688.2 L177.2,1682.4 L182.0,1676.4 L186.8,1670.2 L191.5,1663.9 L196.3,1657.5 L201.1,1650.9 L205.9,1644.1 L210.7,1637.2 L215.5,1630.1 L220.3,1622.9 L225.1,1615.5 L229.9,1608.0 L234.6,1600.3 L239.4,1592.5 L244.2,1584.6 L249.0,1576.5 L253.8,1568.2 L258.6,1559.8 L263.4,1551.3 L268.2,1542.6 L273.0,1533.8 L277.8,1524.9 L282.5,1515.8 L287.3,1506.5 L292.1,1497.2 L296.9,1487.7 L301.7,1478.0 L306.5,1468.3 L311.3,1458.4 L316.1,1448.4 L320.9,1438.3 L325.6,1428.1 L330.4,1417.9 L335.2,1407.5 L340.0,1397.1 L344.8,1386.6 L349.6,1376.0 L354.4,1365.4 L359.2,1354.8 L364.0,1344.1 L368.8,1333.3 L373.5,1322.6 L378.3,1312.0 L383.1,1301.5 L387.9,1291.1 L392.7,1280.9 L397.5,1271.0 L402.3,1261.4 L407.1,1252.1 L411.9,1243.1 L416.6,1234.4 L421.4,1226.0 L426.2,1217.9 L431.0,1210.0 L435.8,1202.3 L440.6,1194.8 L445.4,1187.5 L450.2,1180.5 L455.0,1173.6 L459.8,1166.8 L464.5,1160.3 L469.3,1153.9 L474.1,1147.7 L478.9,1141.7 L483.7,1136.0 L488.5,1130.4 L493.3,1125.1 L498.1,1119.9 L502.9,1115.1 L507.6,1110.4 L512.4,1106.0 L517.2,1101.9 L522.0,1098.0 L526.8,1094.4 L531.6,1091.1 L536.4,1088.1 L541.2,1085.4 L546.0,1083.1 L550.8,1081.1 L555.5,1079.4 L560.3,1078.1 L565.1,1077.1 L569.9,1076.4 L574.7,1076.2 L579.5,1076.2 L584.3,1076.7 L589.1,1077.5 L593.9,1078.6 L598.6,1080.1 L603.4,1082.0 L608.2,1084.3 L613.0,1086.8 L617.8,1089.7 L622.6,1092.9 L627.4,1096.3 L632.2,1100.0 L637.0,1103.8 L641.8,1107.8 L646.5,1112.0 L651.3,1116.3 L656.1,1120.7 L660.9,1125.2 L665.7,1129.8 L670.5,1134.6 L675.3,1139.6 L680.1,1144.7 L684.9,1149.9 L689.6,1155.4 L694.4,1161.1 L699.2,1166.9 L704.0,1173.0 L708.8,1179.3 L713.6,1185.6 L718.4,1192.0 L723.2,1198.4 L728.0,1204.8 L732.8,1211.0 L737.5,1217.0 L742.3,1222.8 L747.1,1228.3 L751.9,1233.4 L756.7,1238.1 L761.5,1242.5 L766.3,1246.6 L771.1,1250.3 L775.9,1253.8 L780.6,1257.0 L785.4,1260.0 L790.2,1262.8 L795.0,1265.4 L799.8,1267.8 L804.6,1270.1 L809.4,1272.3 L814.2,1274.3 L819.0,1276.1 L823.8,1277.8 L828.5,1279.2 L833.3,1280.4 L838.1,1281.4 L842.9,1282.1 L847.7,1282.5 L852.5,1282.6 L857.3,1282.5 L862.1,1282.0 L866.9,1281.3 L871.6,1280.4 L876.4,1279.2 L881.2,1277.7 L886.0,1276.0 L890.8,1274.1 L895.6,1271.9 L900.4,1269.6 L905.2,1267.1 L910.0,1264.4 L914.8,1261.6 L919.5,1258.6 L924.3,1255.6 L929.1,1252.6 L933.9,1249.6 L938.7,1246.6 L943.5,1243.6 L948.3,1240.7 L953.1,1238.0 L957.9,1235.3 L962.6,1232.8 L967.4,1230.5 L972.2,1228.2 L977.0,1226.2 L981.8,1224.3 L986.6,1222.6 L991.4,1221.0 L996.2,1219.6 L1001.0,1218.5 L1005.8,1217.5 L1010.5,1216.8 L1015.3,1216.3 L1020.1,1216.1 L1024.9,1216.3 L1029.7,1216.7 L1034.5,1217.5 L1039.3,1218.5 L1044.1,1219.7 L1048.9,1221.2 L1053.6,1222.9 L1058.4,1224.8 L1063.2,1226.8 L1068.0,1229.1 L1072.8,1231.4 L1077.6,1233.9 L1082.4,1236.5 L1087.2,1239.2 L1092.0,1242.0 L1096.8,1244.8 L1101.5,1247.7 L1106.3,1250.6 L1111.1,1253.5 L1115.9,1256.3 L1120.7,1259.2 L1125.5,1262.0 L1130.3,1264.7 L1135.1,1267.4 L1139.9,1270.0 L1144.6,1272.5 L1149.4,1274.9 L1154.2,1277.2 L1159.0,1279.3 L1163.8,1281.4 L1168.6,1283.3 L1173.4,1285.1 L1178.2,1286.7 L1183.0,1288.1 L1187.8,1289.4 L1192.5,1290.4 L1197.3,1291.3 L1202.1,1291.9 L1206.9,1292.2 L1211.7,1292.3 L1216.5,1292.1 L1221.3,1291.6 L1226.1,1291.0 L1230.9,1290.2 L1235.6,1289.3 L1240.4,1288.2 L1245.2,1287.1 L1250.0,1285.9 L1254.8,1284.7 L1259.6,1283.6 L1264.4,1282.4 L1269.2,1281.4 L1274.0,1280.4 L1278.8,1279.6 L1283.5,1279.0 L1288.3,1278.5 L1293.1,1278.3 L1297.9,1278.4 L1302.7,1278.8 L1307.5,1279.5 L1312.3,1280.4 L1317.1,1281.6 L1321.9,1283.0 L1326.6,1284.6 L1331.4,1286.3 L1336.2,1288.3 L1341.0,1290.3 L1345.8,1292.5 L1350.6,1294.8 L1355.4,1297.2 L1360.2,1299.7 L1365.0,1302.3 L1369.8,1304.9 L1374.5,1307.5 L1379.3,1310.2 L1384.1,1312.9 L1388.9,1315.5 L1393.7,1318.2 L1398.5,1320.8 L1403.3,1323.4 L1408.1,1325.9 L1412.9,1328.4 L1417.6,1330.7 L1422.4,1333.0 L1427.2,1335.2 L1432.0,1337.2 L1436.8,1339.1 L1441.6,1340.8 L1446.4,1342.3 L1451.2,1343.7 L1456.0,1344.9 L1460.8,1345.9 L1465.5,1346.7 L1470.3,1347.2 L1475.1,1347.6 L1479.9,1347.7 L1484.7,1347.8 L1489.5,1347.6 L1494.3,1347.4 L1499.1,1347.1 L1503.9,1346.7 L1508.6,1346.3 L1513.4,1345.8 L1518.2,1345.5 L1523.0,1345.2 L1527.8,1345.0 L1532.6,1345.0 L1537.4,1345.1 L1542.2,1345.5 L1547.0,1345.9 L1551.8,1346.5 L1556.5,1347.2 L1561.3,1347.9 L1566.1,1348.7 L1570.9,1349.5 L1575.7,1350.3 L1580.5,1351.2" stroke="#0b800f" stroke-width="7.5"/>
<path class="cv" d="M148.4,1695.3 L153.2,1690.1 L158.0,1684.7 L162.8,1679.1 L167.6,1673.5 L172.4,1667.7 L177.2,1661.8 L182.0,1655.8 L186.8,1649.7 L191.5,1643.4 L196.3,1637.1 L201.1,1630.6 L205.9,1624.1 L210.7,1617.4 L215.5,1610.6 L220.3,1603.7 L225.1,1596.8 L229.9,1589.7 L234.6,1582.5 L239.4,1575.3 L244.2,1567.9 L249.0,1560.5 L253.8,1553.0 L258.6,1545.4 L263.4,1537.7 L268.2,1530.0 L273.0,1522.2 L277.8,1514.3 L282.5,1506.3 L287.3,1498.2 L292.1,1490.1 L296.9,1482.0 L301.7,1473.7 L306.5,1465.3 L311.3,1456.8 L316.1,1448.2 L320.9,1439.4 L325.6,1430.5 L330.4,1421.4 L335.2,1412.2 L340.0,1402.7 L344.8,1393.1 L349.6,1383.3 L354.4,1373.2 L359.2,1362.9 L364.0,1352.3 L368.8,1341.5 L373.5,1330.4 L378.3,1319.3 L383.1,1308.3 L387.9,1297.4 L392.7,1286.8 L397.5,1276.7 L402.3,1267.1 L407.1,1258.3 L411.9,1250.2 L416.6,1242.9 L421.4,1236.3 L426.2,1230.3 L431.0,1224.8 L435.8,1219.7 L440.6,1214.9 L445.4,1210.4 L450.2,1205.9 L455.0,1201.5 L459.8,1197.0 L464.5,1192.5 L469.3,1188.0 L474.1,1183.5 L478.9,1179.1 L483.7,1174.7 L488.5,1170.5 L493.3,1166.5 L498.1,1162.6 L502.9,1159.0 L507.6,1155.7 L512.4,1152.8 L517.2,1150.1 L522.0,1147.7 L526.8,1145.7 L531.6,1144.0 L536.4,1142.6 L541.2,1141.5 L546.0,1140.8 L550.8,1140.3 L555.5,1140.2 L560.3,1140.5 L565.1,1141.0 L569.9,1141.9 L574.7,1143.0 L579.5,1144.5 L584.3,1146.2 L589.1,1148.2 L593.9,1150.5 L598.6,1153.1 L603.4,1155.9 L608.2,1159.0 L613.0,1162.3 L617.8,1165.9 L622.6,1169.7 L627.4,1173.8 L632.2,1178.2 L637.0,1182.7 L641.8,1187.6 L646.5,1192.7 L651.3,1198.0 L656.1,1203.6 L660.9,1209.4 L665.7,1215.4 L670.5,1221.6 L675.3,1227.9 L680.1,1234.4 L684.9,1240.9 L689.6,1247.6 L694.4,1254.2 L699.2,1260.8 L704.0,1267.5 L708.8,1274.1 L713.6,1280.6 L718.4,1287.1 L723.2,1293.5 L728.0,1299.9 L732.8,1306.2 L737.5,1312.5 L742.3,1318.6 L747.1,1324.7 L751.9,1330.8 L756.7,1336.7 L761.5,1342.5 L766.3,1348.2 L771.1,1353.8 L775.9,1359.1 L780.6,1364.2 L785.4,1369.0 L790.2,1373.5 L795.0,1377.7 L799.8,1381.5 L804.6,1385.0 L809.4,1388.1 L814.2,1390.8 L819.0,1393.1 L823.8,1395.1 L828.5,1396.8 L833.3,1398.2 L838.1,1399.2 L842.9,1400.1 L847.7,1400.6 L852.5,1400.9 L857.3,1401.0 L862.1,1400.8 L866.9,1400.4 L871.6,1399.7 L876.4,1398.8 L881.2,1397.6 L886.0,1396.0 L890.8,1394.2 L895.6,1392.0 L900.4,1389.5 L905.2,1386.7 L910.0,1383.5 L914.8,1380.2 L919.5,1376.6 L924.3,1372.8 L929.1,1369.0 L933.9,1365.0 L938.7,1361.1 L943.5,1357.2 L948.3,1353.4 L953.1,1349.7 L957.9,1346.1 L962.6,1342.7 L967.4,1339.4 L972.2,1336.3 L977.0,1333.4 L981.8,1330.7 L986.6,1328.2 L991.4,1325.9 L996.2,1323.8 L1001.0,1322.0 L1005.8,1320.4 L1010.5,1319.1 L1015.3,1318.0 L1020.1,1317.1 L1024.9,1316.5 L1029.7,1316.1 L1034.5,1315.9 L1039.3,1315.9 L1044.1,1316.2 L1048.9,1316.7 L1053.6,1317.3 L1058.4,1318.2 L1063.2,1319.2 L1068.0,1320.3 L1072.8,1321.6 L1077.6,1323.0 L1082.4,1324.4 L1087.2,1326.0 L1092.0,1327.6 L1096.8,1329.2 L1101.5,1330.9 L1106.3,1332.6 L1111.1,1334.3 L1115.9,1336.1 L1120.7,1337.9 L1125.5,1339.9 L1130.3,1341.9 L1135.1,1343.8 L1139.9,1345.6 L1144.6,1347.3 L1149.4,1348.8 L1154.2,1350.1 L1159.0,1351.0 L1163.8,1351.6 L1168.6,1351.8 L1173.4,1351.6 L1178.2,1351.2 L1183.0,1350.6 L1187.8,1349.7 L1192.5,1348.7 L1197.3,1347.6 L1202.1,1346.3 L1206.9,1345.0 L1211.7,1343.7 L1216.5,1342.4 L1221.3,1341.0 L1226.1,1339.6 L1230.9,1338.2 L1235.6,1336.7 L1240.4,1335.2 L1245.2,1333.7 L1250.0,1332.1 L1254.8,1330.5 L1259.6,1328.8 L1264.4,1327.1 L1269.2,1325.4 L1274.0,1323.7 L1278.8,1322.1 L1283.5,1320.5 L1288.3,1319.0 L1293.1,1317.6 L1297.9,1316.4 L1302.7,1315.4 L1307.5,1314.5 L1312.3,1313.9 L1317.1,1313.5 L1321.9,1313.4 L1326.6,1313.6 L1331.4,1314.0 L1336.2,1314.6 L1341.0,1315.5 L1345.8,1316.5 L1350.6,1317.7 L1355.4,1319.0 L1360.2,1320.4 L1365.0,1322.0 L1369.8,1323.6 L1374.5,1325.3 L1379.3,1327.0 L1384.1,1328.8 L1388.9,1330.5 L1393.7,1332.2 L1398.5,1333.9 L1403.3,1335.5 L1408.1,1337.0 L1412.9,1338.4 L1417.6,1339.6 L1422.4,1340.7 L1427.2,1341.6 L1432.0,1342.2 L1436.8,1342.6 L1441.6,1342.8 L1446.4,1342.6 L1451.2,1342.2 L1456.0,1341.6 L1460.8,1340.8 L1465.5,1339.9 L1470.3,1338.7 L1475.1,1337.5 L1479.9,1336.1 L1484.7,1334.7 L1489.5,1333.2 L1494.3,1331.7 L1499.1,1330.2 L1503.9,1328.7 L1508.6,1327.3 L1513.4,1325.9 L1518.2,1324.5 L1523.0,1323.1 L1527.8,1321.8 L1532.6,1320.6 L1537.4,1319.5 L1542.2,1318.4 L1547.0,1317.4 L1551.8,1316.4 L1556.5,1315.6 L1561.3,1315.0 L1566.1,1314.5 L1570.9,1314.2 L1575.7,1314.1 L1580.5,1314.3" stroke="#fc1a22" stroke-width="7.6" stroke-dasharray="7.6 7.9"/>
<path class="cv" d="M148.4,1655.7 L153.2,1649.9 L158.0,1643.9 L162.8,1637.9 L167.6,1631.7 L172.4,1625.4 L177.2,1618.9 L182.0,1612.4 L186.8,1605.7 L191.5,1599.0 L196.3,1592.1 L201.1,1585.1 L205.9,1578.0 L210.7,1570.8 L215.5,1563.5 L220.3,1556.1 L225.1,1548.6 L229.9,1541.0 L234.6,1533.3 L239.4,1525.5 L244.2,1517.6 L249.0,1509.6 L253.8,1501.6 L258.6,1493.4 L263.4,1485.2 L268.2,1476.9 L273.0,1468.4 L277.8,1459.9 L282.5,1451.3 L287.3,1442.6 L292.1,1433.8 L296.9,1424.9 L301.7,1415.9 L306.5,1406.7 L311.3,1397.5 L316.1,1388.1 L320.9,1378.6 L325.6,1369.0 L330.4,1359.3 L335.2,1349.5 L340.0,1339.5 L344.8,1329.4 L349.6,1319.4 L354.4,1309.3 L359.2,1299.5 L364.0,1289.8 L368.8,1280.4 L373.5,1271.3 L378.3,1262.6 L383.1,1254.4 L387.9,1246.7 L392.7,1239.5 L397.5,1232.7 L402.3,1226.3 L407.1,1220.3 L411.9,1214.5 L416.6,1209.1 L421.4,1203.9 L426.2,1198.9 L431.0,1194.1 L435.8,1189.6 L440.6,1185.2 L445.4,1181.1 L450.2,1177.3 L455.0,1173.8 L459.8,1170.5 L464.5,1167.5 L469.3,1164.8 L474.1,1162.4 L478.9,1160.2 L483.7,1158.4 L488.5,1156.8 L493.3,1155.5 L498.1,1154.5 L502.9,1153.6 L507.6,1153.1 L512.4,1152.8 L517.2,1152.7 L522.0,1152.8 L526.8,1153.2 L531.6,1153.9 L536.4,1154.9 L541.2,1156.3 L546.0,1158.0 L550.8,1160.0 L555.5,1162.4 L560.3,1165.2 L565.1,1168.4 L569.9,1171.9 L574.7,1175.7 L579.5,1179.8 L584.3,1184.2 L589.1,1188.9 L593.9,1193.9 L598.6,1199.1 L603.4,1204.5 L608.2,1210.1 L613.0,1215.9 L617.8,1221.9 L622.6,1228.1 L627.4,1234.4 L632.2,1240.8 L637.0,1247.3 L641.8,1253.9 L646.5,1260.6 L651.3,1267.3 L656.1,1274.1 L660.9,1280.9 L665.7,1287.7 L670.5,1294.4 L675.3,1301.2 L680.1,1308.0 L684.9,1314.7 L689.6,1321.3 L694.4,1327.8 L699.2,1334.3 L704.0,1340.7 L708.8,1346.9 L713.6,1353.0 L718.4,1359.0 L723.2,1364.8 L728.0,1370.5 L732.8,1375.9 L737.5,1381.2 L742.3,1386.3 L747.1,1391.1 L751.9,1395.7 L756.7,1400.1 L761.5,1404.2 L766.3,1408.0 L771.1,1411.6 L775.9,1414.9 L780.6,1418.0 L785.4,1420.8 L790.2,1423.3 L795.0,1425.5 L799.8,1427.5 L804.6,1429.1 L809.4,1430.5 L814.2,1431.4 L819.0,1431.8 L823.8,1431.8 L828.5,1431.3 L833.3,1430.4 L838.1,1429.1 L842.9,1427.5 L847.7,1425.6 L852.5,1423.6 L857.3,1421.5 L862.1,1419.3 L866.9,1416.9 L871.6,1414.4 L876.4,1411.8 L881.2,1409.0 L886.0,1406.1 L890.8,1403.1 L895.6,1400.0 L900.4,1396.8 L905.2,1393.4 L910.0,1389.9 L914.8,1386.4 L919.5,1382.8 L924.3,1379.1 L929.1,1375.4 L933.9,1371.7 L938.7,1368.0 L943.5,1364.4 L948.3,1360.7 L953.1,1357.2 L957.9,1353.7 L962.6,1350.3 L967.4,1347.0 L972.2,1343.9 L977.0,1340.9 L981.8,1338.2 L986.6,1335.6 L991.4,1333.3 L996.2,1331.2 L1001.0,1329.4 L1005.8,1327.8 L1010.5,1326.6 L1015.3,1325.7 L1020.1,1325.1 L1024.9,1324.9 L1029.7,1325.0 L1034.5,1325.5 L1039.3,1326.3 L1044.1,1327.3 L1048.9,1328.5 L1053.6,1329.8 L1058.4,1331.2 L1063.2,1332.7 L1068.0,1334.3 L1072.8,1336.1 L1077.6,1338.1 L1082.4,1340.3 L1087.2,1342.7 L1092.0,1345.4 L1096.8,1348.4 L1101.5,1351.6 L1106.3,1355.2 L1111.1,1358.8 L1115.9,1362.4 L1120.7,1365.8 L1125.5,1369.0 L1130.3,1372.0 L1135.1,1374.7 L1139.9,1377.2 L1144.6,1379.4 L1149.4,1381.4 L1154.2,1383.2 L1159.0,1384.7 L1163.8,1386.1 L1168.6,1387.2 L1173.4,1388.1 L1178.2,1388.8 L1183.0,1389.3 L1187.8,1389.7 L1192.5,1389.8 L1197.3,1389.8 L1202.1,1389.6 L1206.9,1389.2 L1211.7,1388.7 L1216.5,1388.0 L1221.3,1387.1 L1226.1,1386.1 L1230.9,1385.0 L1235.6,1383.8 L1240.4,1382.4 L1245.2,1381.0 L1250.0,1379.4 L1254.8,1377.7 L1259.6,1376.0 L1264.4,1374.1 L1269.2,1372.3 L1274.0,1370.4 L1278.8,1368.6 L1283.5,1366.9 L1288.3,1365.3 L1293.1,1363.8 L1297.9,1362.5 L1302.7,1361.4 L1307.5,1360.5 L1312.3,1360.0 L1317.1,1359.7 L1321.9,1359.8 L1326.6,1360.2 L1331.4,1360.9 L1336.2,1361.7 L1341.0,1362.8 L1345.8,1364.1 L1350.6,1365.4 L1355.4,1366.9 L1360.2,1368.4 L1365.0,1369.9 L1369.8,1371.5 L1374.5,1373.1 L1379.3,1374.6 L1384.1,1376.1 L1388.9,1377.5 L1393.7,1378.9 L1398.5,1380.2 L1403.3,1381.4 L1408.1,1382.5 L1412.9,1383.5 L1417.6,1384.3 L1422.4,1385.0 L1427.2,1385.5 L1432.0,1385.8 L1436.8,1385.9 L1441.6,1385.9 L1446.4,1385.6 L1451.2,1385.2 L1456.0,1384.7 L1460.8,1384.0 L1465.5,1383.2 L1470.3,1382.3 L1475.1,1381.3 L1479.9,1380.2 L1484.7,1379.0 L1489.5,1377.7 L1494.3,1376.3 L1499.1,1374.9 L1503.9,1373.4 L1508.6,1371.9 L1513.4,1370.4 L1518.2,1368.9 L1523.0,1367.5 L1527.8,1366.1 L1532.6,1364.9 L1537.4,1363.7 L1542.2,1362.7 L1547.0,1361.8 L1551.8,1361.1 L1556.5,1360.6 L1561.3,1360.3 L1566.1,1360.0 L1570.9,1359.8 L1575.7,1359.7 L1580.5,1359.6" stroke="#2a0afa" stroke-width="7.6" stroke-dasharray="7.6 7.9"/>
<path class="cv" d="M148.4,1526.0 L153.2,1518.0 L158.0,1509.8 L162.8,1501.6 L167.6,1493.2 L172.4,1484.7 L177.2,1476.1 L182.0,1467.5 L186.8,1458.7 L191.5,1449.9 L196.3,1441.0 L201.1,1432.1 L205.9,1423.2 L210.7,1414.2 L215.5,1405.2 L220.3,1396.2 L225.1,1387.2 L229.9,1378.3 L234.6,1369.3 L239.4,1360.4 L244.2,1351.6 L249.0,1342.8 L253.8,1334.1 L258.6,1325.5 L263.4,1316.9 L268.2,1308.5 L273.0,1300.2 L277.8,1292.0 L282.5,1284.0 L287.3,1276.1 L292.1,1268.4 L296.9,1260.8 L301.7,1253.5 L306.5,1246.3 L311.3,1239.4 L316.1,1232.7 L320.9,1226.3 L325.6,1220.1 L330.4,1214.2 L335.2,1208.7 L340.0,1203.4 L344.8,1198.4 L349.6,1193.8 L354.4,1189.5 L359.2,1185.5 L364.0,1181.9 L368.8,1178.5 L373.5,1175.5 L378.3,1172.8 L383.1,1170.3 L387.9,1168.2 L392.7,1166.3 L397.5,1164.7 L402.3,1163.3 L407.1,1162.1 L411.9,1161.2 L416.6,1160.5 L421.4,1160.0 L426.2,1159.7 L431.0,1159.6 L435.8,1159.8 L440.6,1160.3 L445.4,1161.2 L450.2,1162.4 L455.0,1164.0 L459.8,1166.1 L464.5,1168.7 L469.3,1171.8 L474.1,1175.4 L478.9,1179.3 L483.7,1183.6 L488.5,1188.2 L493.3,1193.0 L498.1,1198.0 L502.9,1203.1 L507.6,1208.3 L512.4,1213.7 L517.2,1219.1 L522.0,1224.6 L526.8,1230.1 L531.6,1235.7 L536.4,1241.3 L541.2,1246.9 L546.0,1252.5 L550.8,1258.2 L555.5,1263.8 L560.3,1269.3 L565.1,1274.9 L569.9,1280.3 L574.7,1285.7 L579.5,1291.0 L584.3,1296.2 L589.1,1301.3 L593.9,1306.3 L598.6,1311.2 L603.4,1315.9 L608.2,1320.4 L613.0,1324.7 L617.8,1328.9 L622.6,1332.8 L627.4,1336.5 L632.2,1339.9 L637.0,1343.0 L641.8,1345.8 L646.5,1348.4 L651.3,1350.8 L656.1,1352.9 L660.9,1354.9 L665.7,1356.6 L670.5,1358.2 L675.3,1359.6 L680.1,1360.9 L684.9,1362.0 L689.6,1362.9 L694.4,1363.5 L699.2,1363.9 L704.0,1363.9 L708.8,1363.6 L713.6,1362.8 L718.4,1361.8 L723.2,1360.3 L728.0,1358.6 L732.8,1356.6 L737.5,1354.3 L742.3,1351.8 L747.1,1349.1 L751.9,1346.2 L756.7,1343.1 L761.5,1339.8 L766.3,1336.5 L771.1,1333.1 L775.9,1329.6 L780.6,1326.1 L785.4,1322.6 L790.2,1319.1 L795.0,1315.7 L799.8,1312.4 L804.6,1309.2 L809.4,1306.1 L814.2,1303.1 L819.0,1300.2 L823.8,1297.3 L828.5,1294.4 L833.3,1291.6 L838.1,1288.8 L842.9,1286.1 L847.7,1283.5 L852.5,1281.1 L857.3,1279.0 L862.1,1277.1 L866.9,1275.6 L871.6,1274.4 L876.4,1273.7 L881.2,1273.4 L886.0,1273.4 L890.8,1273.9 L895.6,1274.7 L900.4,1275.7 L905.2,1277.0 L910.0,1278.6 L914.8,1280.4 L919.5,1282.3 L924.3,1284.4 L929.1,1286.6 L933.9,1289.0 L938.7,1291.6 L943.5,1294.2 L948.3,1297.0 L953.1,1299.9 L957.9,1302.9 L962.6,1306.1 L967.4,1309.3 L972.2,1312.6 L977.0,1316.0 L981.8,1319.4 L986.6,1323.0 L991.4,1326.5 L996.2,1330.1 L1001.0,1333.8 L1005.8,1337.5 L1010.5,1341.1 L1015.3,1344.8 L1020.1,1348.3 L1024.9,1351.8 L1029.7,1355.2 L1034.5,1358.5 L1039.3,1361.6 L1044.1,1364.5 L1048.9,1367.2 L1053.6,1369.6 L1058.4,1371.8 L1063.2,1373.8 L1068.0,1375.5 L1072.8,1377.0 L1077.6,1378.2 L1082.4,1379.1 L1087.2,1379.9 L1092.0,1380.3 L1096.8,1380.5 L1101.5,1380.4 L1106.3,1380.1 L1111.1,1379.5 L1115.9,1378.6 L1120.7,1377.5 L1125.5,1376.1 L1130.3,1374.4 L1135.1,1372.5 L1139.9,1370.3 L1144.6,1367.9 L1149.4,1365.3 L1154.2,1362.6 L1159.0,1359.9 L1163.8,1357.1 L1168.6,1354.3 L1173.4,1351.6 L1178.2,1349.0 L1183.0,1346.7 L1187.8,1344.6 L1192.5,1342.7 L1197.3,1341.1 L1202.1,1339.8 L1206.9,1338.6 L1211.7,1337.6 L1216.5,1336.6 L1221.3,1335.8 L1226.1,1335.0 L1230.9,1334.2 L1235.6,1333.4 L1240.4,1332.8 L1245.2,1332.2 L1250.0,1331.8 L1254.8,1331.5 L1259.6,1331.4 L1264.4,1331.4 L1269.2,1331.7 L1274.0,1332.3 L1278.8,1333.1 L1283.5,1334.3 L1288.3,1335.8 L1293.1,1337.6 L1297.9,1339.7 L1302.7,1341.9 L1307.5,1344.4 L1312.3,1347.0 L1317.1,1349.7 L1321.9,1352.5 L1326.6,1355.3 L1331.4,1358.1 L1336.2,1360.9 L1341.0,1363.6 L1345.8,1366.3 L1350.6,1369.0 L1355.4,1371.6 L1360.2,1374.1 L1365.0,1376.6 L1369.8,1378.9 L1374.5,1381.1 L1379.3,1383.2 L1384.1,1385.2 L1388.9,1387.0 L1393.7,1388.7 L1398.5,1390.2 L1403.3,1391.5 L1408.1,1392.6 L1412.9,1393.4 L1417.6,1393.9 L1422.4,1394.1 L1427.2,1393.9 L1432.0,1393.5 L1436.8,1392.7 L1441.6,1391.8 L1446.4,1390.6 L1451.2,1389.3 L1456.0,1387.9 L1460.8,1386.4 L1465.5,1384.8 L1470.3,1383.2 L1475.1,1381.7 L1479.9,1380.1 L1484.7,1378.6 L1489.5,1377.1 L1494.3,1375.7 L1499.1,1374.3 L1503.9,1373.0 L1508.6,1371.9 L1513.4,1370.8 L1518.2,1369.9 L1523.0,1369.1 L1527.8,1368.5 L1532.6,1368.1 L1537.4,1367.9 L1542.2,1367.8 L1547.0,1367.8 L1551.8,1368.0 L1556.5,1368.3 L1561.3,1368.6 L1566.1,1369.0 L1570.9,1369.4 L1575.7,1369.8 L1580.5,1370.2" stroke="#0b800f" stroke-width="7.6" stroke-dasharray="7.6 7.9"/>
</g>
</g>
<g transform="translate(1285.50,21.00) scale(1,1.0)">
<rect x="0" y="0" width="286.3" height="169.7" style="fill:#fff;stroke:#1c1c1c;stroke-width:2.4"/>
<line x1="15.5" x2="92.8" y1="17.75" y2="17.75" stroke="#e95d24" stroke-width="14.5" stroke-linecap="square"/>
<text class="l" x="106.5" y="25.95">600 codiagonals</text>
<line x1="15.5" x2="92.8" y1="44.5" y2="44.5" stroke="#2a0afa" stroke-width="10" stroke-linecap="square"/>
<text class="l" x="106.5" y="52.70">400 codiagonals</text>
<line x1="15.5" x2="92.8" y1="71.5" y2="71.5" stroke="#0b800f" stroke-width="7.5" stroke-linecap="square"/>
<text class="l" x="106.5" y="79.70">200 codiagonals</text>
<line x1="15.5" x2="92.8" y1="98" y2="98" stroke="#fc1a22" stroke-width="7.6" stroke-dasharray="7.6 7.9"/>
<text class="l" x="106.5" y="106.20">60 codiagonals</text>
<line x1="15.5" x2="92.8" y1="125" y2="125" stroke="#2a0afa" stroke-width="7.6" stroke-dasharray="7.6 7.9"/>
<text class="l" x="106.5" y="133.20">40 codiagonals</text>
<line x1="15.5" x2="92.8" y1="151.5" y2="151.5" stroke="#0b800f" stroke-width="7.6" stroke-dasharray="7.6 7.9"/>
<text class="l" x="106.5" y="159.70">20 codiagonals</text>
</g>
<g transform="translate(178.75,810.00) scale(1,1.0)">
<rect x="0" y="0" width="286.3" height="169.7" style="fill:#fff;stroke:#1c1c1c;stroke-width:2.4"/>
<line x1="15.5" x2="92.8" y1="17.75" y2="17.75" stroke="#e95d24" stroke-width="14.5" stroke-linecap="square"/>
<text class="l" x="106.5" y="25.95">600 codiagonals</text>
<line x1="15.5" x2="92.8" y1="44.5" y2="44.5" stroke="#2a0afa" stroke-width="10" stroke-linecap="square"/>
<text class="l" x="106.5" y="52.70">400 codiagonals</text>
<line x1="15.5" x2="92.8" y1="71.5" y2="71.5" stroke="#0b800f" stroke-width="7.5" stroke-linecap="square"/>
<text class="l" x="106.5" y="79.70">200 codiagonals</text>
<line x1="15.5" x2="92.8" y1="98" y2="98" stroke="#fc1a22" stroke-width="7.6" stroke-dasharray="7.6 7.9"/>
<text class="l" x="106.5" y="106.20">60 codiagonals</text>
<line x1="15.5" x2="92.8" y1="125" y2="125" stroke="#2a0afa" stroke-width="7.6" stroke-dasharray="7.6 7.9"/>
<text class="l" x="106.5" y="133.20">40 codiagonals</text>
<line x1="15.5" x2="92.8" y1="151.5" y2="151.5" stroke="#0b800f" stroke-width="7.6" stroke-dasharray="7.6 7.9"/>
<text class="l" x="106.5" y="159.70">20 codiagonals</text>
</g>
<g transform="translate(1265.50,1076.20) scale(1,1.0165)">
<rect x="0" y="0" width="286.3" height="169.7" style="fill:#fff;stroke:#1c1c1c;stroke-width:2.4"/>
<line x1="15.5" x2="92.8" y1="17.75" y2="17.75" stroke="#e95d24" stroke-width="14.5" stroke-linecap="square"/>
<text class="l" x="106.5" y="25.95">600 codiagonals</text>
<line x1="15.5" x2="92.8" y1="44.5" y2="44.5" stroke="#2a0afa" stroke-width="10" stroke-linecap="square"/>
<text class="l" x="106.5" y="52.70">400 codiagonals</text>
<line x1="15.5" x2="92.8" y1="71.5" y2="71.5" stroke="#0b800f" stroke-width="7.5" stroke-linecap="square"/>
<text class="l" x="106.5" y="79.70">200 codiagonals</text>
<line x1="15.5" x2="92.8" y1="98" y2="98" stroke="#fc1a22" stroke-width="7.6" stroke-dasharray="7.6 7.9"/>
<text class="l" x="106.5" y="106.20">60 codiagonals</text>
<line x1="15.5" x2="92.8" y1="125" y2="125" stroke="#2a0afa" stroke-width="7.6" stroke-dasharray="7.6 7.9"/>
<text class="l" x="106.5" y="133.20">40 codiagonals</text>
<line x1="15.5" x2="92.8" y1="151.5" y2="151.5" stroke="#0b800f" stroke-width="7.6" stroke-dasharray="7.6 7.9"/>
<text class="l" x="106.5" y="159.70">20 codiagonals</text>
</g>
<text class="t" text-anchor="end" x="135" y="44.3">+1.0</text>
<text class="t" text-anchor="end" x="134" y="150.5">+0.5</text>
<text class="t" text-anchor="end" x="136" y="259">0.0</text>
<text class="t" text-anchor="end" x="134" y="359.7">-0.5</text>
<text class="t" text-anchor="end" x="131" y="459">-1.0</text>
<text class="t" text-anchor="middle" x="146" y="520">-25</text>
<text class="t" text-anchor="middle" x="285" y="518">-20</text>
<text class="t" text-anchor="middle" x="428.7" y="518.7">-15</text>
<text class="t" text-anchor="middle" x="579.4" y="518.7">-10</text>
<text class="t" text-anchor="middle" x="721.2" y="518.7">-5</text>
<text class="t" text-anchor="middle" x="863.7" y="518.7">0</text>
<text class="t" text-anchor="middle" x="999" y="518.7">+5</text>
<text class="t" text-anchor="middle" x="1140.6" y="520.5">+10</text>
<text class="t" text-anchor="middle" x="1286.6" y="518.7">+15</text>
<text class="t" text-anchor="middle" x="1439" y="518.7">+20</text>
<text class="t" text-anchor="middle" x="1568" y="518.7">+25</text>
<text class="t" text-anchor="end" x="129.5" y="568.5">+1.0</text>
<text class="t" text-anchor="end" x="130.5" y="677.5">+0.5</text>
<text class="t" text-anchor="end" x="132" y="783.7">0.0</text>
<text class="t" text-anchor="end" x="128.5" y="883.7">-0.5</text>
<text class="t" text-anchor="end" x="125.5" y="984.5">-1.0</text>
<text class="t" text-anchor="middle" x="147.5" y="1035.5">-25</text>
<text class="t" text-anchor="middle" x="428.5" y="1035.5">-24</text>
<text class="t" text-anchor="middle" x="708.6" y="1035.5">-23</text>
<text class="t" text-anchor="middle" x="1007" y="1035.5">-22</text>
<text class="t" text-anchor="middle" x="1287.5" y="1035">-21</text>
<text class="t" text-anchor="middle" x="1568" y="1035">-20</text>
<text class="a" text-anchor="start" x="1171" y="606.6">detail near wave source</text>
<text class="t" text-anchor="end" x="128.3" y="1091">+0.6</text>
<text class="t" text-anchor="end" x="127.5" y="1181">+0.4</text>
<text class="t" text-anchor="end" x="130.5" y="1265.5">+0.2</text>
<text class="t" text-anchor="end" x="132.5" y="1362.6">0.0</text>
<text class="t" text-anchor="end" x="135.7" y="1446.8">-0.2</text>
<text class="t" text-anchor="middle" x="358.4" y="1547">-3</text>
<text class="t" text-anchor="middle" x="641.2" y="1547">-2</text>
<text class="t" text-anchor="middle" x="922.5" y="1547">-1</text>
<text class="t" text-anchor="middle" x="1208" y="1547">0</text>
<text class="t" text-anchor="middle" x="1482" y="1547">1</text>
<text class="a" text-anchor="start" x="1105" y="1470">detail near wave confluence</text>
<text class="a" text-anchor="middle" x="825.6" y="1581.5">x [m]</text>
<text class="y" text-anchor="middle" textLength="88.6" lengthAdjust="spacingAndGlyphs" transform="translate(44,247) rotate(-90)">Re [E]</text>
<text class="y" text-anchor="middle" textLength="88.6" lengthAdjust="spacingAndGlyphs" transform="translate(34,772) rotate(-90)">Re [E]</text>
<text class="y" text-anchor="middle" textLength="88.6" lengthAdjust="spacingAndGlyphs" transform="translate(26.5,1259) rotate(-90)">Re [E]</text>
</g>
</svg></body></html>
